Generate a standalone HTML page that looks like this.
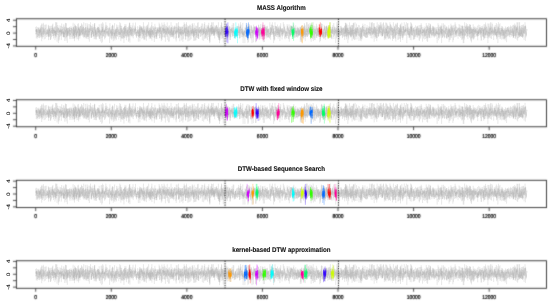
<!DOCTYPE html>
<html><head><meta charset="utf-8"><style>
html,body{margin:0;padding:0;background:#fff;overflow:hidden}
svg{display:block}
text{font-family:"Liberation Sans",Arial,sans-serif;text-rendering:geometricPrecision}
.t{font-weight:bold;font-size:6.2px;fill:#111;stroke:#111;stroke-width:0.1px}
.a{font-size:5px;fill:#000;stroke:#000;stroke-width:0.2px}
.y{fill:#222;stroke:#222;stroke-width:0.1px}
</style></head><body>
<svg width="550" height="305" viewBox="0 0 550 305">
<defs>
<filter id="bl" x="0" y="0" width="550" height="305" filterUnits="userSpaceOnUse"><feConvolveMatrix order="3" kernelMatrix="1 3 1 3 16 3 1 3 1" divisor="32" edgeMode="duplicate"/></filter>
<path id="nz" d="M35.7 -.1l.07-4.7 .06 .5 .07 7 .06-1.6 .07 .8 .06-3.9 .07 2.2 .06-2.8 .07 9.1 .07-12 .06 5.8 .07-2.7 .06 2.9 .07 1.5 .06-3.6 .07-1.3 .06 3.6 .07-.2 .06-2.9 .07 7 .07 .8 .06-6.8 .07 3.8 .06 4.4 .07-3.9 .06-1.2 .07 2.5 .06 1.1 .07-5.5 .07-4.6 .06 5.6 .07 1.8 .06-4 .07-1.1 .06 3.6 .07-3 .06-1.8 .07 4.4 .06 2.2 .07-4.1 .07 .3 .06-3 .07 8.4 .06-2.2 .07 .7 .06 3.1 .07-6.5 .06-1.5 .07 5.8 .07-8.8 .06 2 .07 .7 .06 .8 .07-2 .06 8.1 .07-6.9 .06 .1 .07 8.4 .06-7.5 .07 2.5 .07-4.1 .06 4.4 .07-1.5 .06-1.9 .07 4.9 .06-5.2 .07 2.7 .06-2.3 .07 3.5 .07-5.6 .06 1.7 .07 2.7 .06-2.8 .07-2.3 .06-1.8 .07 11.9 .06-8.7 .07 1.5 .07 1.9 .06 3.3 .07-8 .06 8.9 .07-6.5 .06-2.6 .07 10.3 .06-4.6 .07 3.5 .06-5.5 .07-4.5 .07-1.8 .06 16.6 .07-7.4 .06-4.5 .07-5.9 .06 6.9 .07 4.1 .06-3.7 .07 1.2 .07 .6 .06 1.9 .07-4 .06 .3 .07 1.4 .06 .5 .07 6 .06-5.1 .07-6 .06 5.3 .07 4.1 .07-9.8 .06 2.8 .07-5.6 .06 7.3 .07 1.8 .06 3.5 .07-9.8 .06-4.4 .07 12 .07-.6 .06-4.4 .07 5 .06-1.9 .07 .2 .06-1.9 .07-3.2 .06 3.8 .07-3.1 .07 4.7 .06-2.7 .07 8.8 .06-2.5 .07-7.9 .06 4.9 .07-4.2 .06 .2 .07-5.1 .06 2.7 .07 .7 .07 4 .06 2.1 .07 .1 .06-.9 .07 2.3 .06-2.1 .07-1.6 .06-1.2 .07 2.1 .07 5.6 .06-6.5 .07-1.1 .06-3 .07 .7 .06 5.4 .07 .3 .06-9.7 .07 4.4 .06-3.8 .07-1 .07 10.4 .06-4.9 .07 .4 .06-.4 .07 .1 .06 1.2 .07 .1 .06 5.9 .07-4.7 .07 2 .06-3 .07 2.1 .06-3.9 .07-.7 .06 1.8 .07 0 .06 .8 .07 1.9 .06-1 .07 1.2 .07-3.2 .06 1.4 .07-2.1 .06 6.8 .07-7.8 .06 5.8 .07-.1 .06-1.9 .07 1.3 .07-3 .06 3 .07 1.8 .06-.8 .07-10 .06 6.8 .07 4.3 .06-4.1 .07 8.3 .07-14.6 .06 11.7 .07-7.1 .06-.2 .07 7 .06-6.7 .07-3.7 .06 2.8 .07 1.6 .06-2.5 .07 2.8 .07-1.2 .06 2.5 .07-4.1 .06 8.4 .07-7.8 .06 4.6 .07 2.1 .06-5.2 .07-4.7 .07 2.6 .06 6.1 .07-5.2 .06 4.1 .07-.9 .06-1 .07 8.5 .06-8.9 .07 4.3 .06-1.1 .07 2.7 .07 2.8 .06-4.7 .07-7.7 .06-1.5 .07 6 .06-4 .07 4.8 .06 5.9 .07-7.3 .07-1.1 .06 3.1 .07-2.6 .06-.9 .07 5.1 .06 2.1 .07-4.4 .06-.1 .07 .5 .06-4.7 .07-2.6 .07 7.6 .06-5.2 .07 .4 .06 .8 .07-1.2 .06 5.1 .07-4 .06-4.6 .07 4.4 .07 5 .06-4.3 .07-2.4 .06 3.2 .07 3.3 .06-10.2 .07 12.6 .06-6.2 .07 1.9 .07 4.1 .06-8.5 .07 3.1 .06 5.3 .07-7.3 .06 4.7 .07 5.2 .06-4.3 .07-3.3 .06-1.3 .07 1.6 .07 .4 .06-1.5 .07 2.4 .06-4.9 .07 3.4 .06-.2 .07-.9 .06 5.6 .07-1.2 .07-7.9 .06 4.2 .07 2.2 .06-2.2 .07 2.9 .06-2.7 .07 4.5 .06-4.5 .07 9.4 .06-13.1 .07 6.5 .07 3.8 .06-4.8 .07 .5 .06-1.8 .07 4.6 .06-5.5 .07-8.2 .06 14.1 .07-5.7 .07 2.3 .06-1.8 .07 7.1 .06-2.3 .07-5.7 .06 1.7 .07-5.9 .06 8.3 .07-3.1 .06-9 .07 12.3 .07 2.1 .06-4.7 .07 .1 .06-3.2 .07 2.3 .06 3.4 .07-3.4 .06-8.6 .07 4.8 .07 14.3 .06-9.3 .07 2.6 .06-5.3 .07 2.8 .06-7.4 .07 3.5 .06 .2 .07 2.4 .07 .8 .06-1.9 .07-2.8 .06 2.7 .07 3.1 .06-5.7 .07 3.8 .06 1 .07 2.5 .06-.8 .07 .2 .07 9.1 .06-14.9 .07 1.6 .06 2.8 .07-4.5 .06 1.4 .07 1 .06 10.1 .07-8 .07-2.7 .06-3.8 .07-.8 .06 1.5 .07 9.1 .06 3.7 .07-9.8 .06 1.9 .07-3.3 .06 3.8 .07-1.2 .07 6.1 .06-6.9 .07 3.2 .06-2.8 .07-.4 .06 2 .07-1.5 .06 1.1 .07-2.7 .07 .9 .06 4.7 .07-.8 .06-8.3 .07 6.6 .06-3.9 .07 2.1 .06 3.4 .07 2 .07-4.4 .06-.5 .07-1.3 .06 6.7 .07-2.4 .06-1.8 .07-6 .06 14 .07-9.9 .06 3.5 .07-3.4 .07 4.1 .06-3.9 .07-7 .06 6.4 .07 .4 .06 .2 .07 4 .06-5.6 .07 3.6 .07 2.2 .06-2.8 .07 .7 .06-3.5 .07 2.9 .06 1.7 .07-7 .06 1.6 .07-1 .06 2.4 .07 2.5 .07 1.1 .06-.5 .07-4.4 .06 3 .07 5.6 .06-5.1 .07 4.9 .06-5.9 .07 5.2 .07 .2 .06-4.9 .07 .7 .06 5.6 .07-8.5 .06-5 .07 12.8 .06-11.6 .07 8.8 .06-.7 .07-1.1 .07 4.5 .06-9.7 .07 2.9 .06 4.4 .07-1.7 .06 4.4 .07-4.2 .06-4.5 .07 12.4 .07-7.6 .06-2 .07-3.2 .06-1.1 .07 6.4 .06 1 .07-4.2 .06 2.9 .07-.2 .07-4.9 .06-5.2 .07 8.1 .06 1.6 .07-2.7 .06 8.7 .07-6.6 .06 3.7 .07-12.3 .06 6 .07 2 .07 1.2 .06 8.2 .07-11.4 .06-6.1 .07 11.2 .06-5 .07-1.4 .06 9.3 .07-8.8 .07-1.5 .06 4 .07 1 .06-3 .07 8.2 .06-5.7 .07-3.4 .06 8.1 .07-7.9 .06 5 .07 9.5 .07-10.6 .06 3 .07-4.5 .06 5.2 .07-7.8 .06 6.3 .07-3.9 .06 3.4 .07-1 .07-5.3 .06 3.4 .07 2.2 .06 3 .07-8.5 .06 .2 .07 5.1 .06-2.1 .07 4.5 .06 0 .07-.7 .07-4.1 .06 .2 .07 3.6 .06-6.5 .07 1.1 .06 2.2 .07-3.1 .06 4.7 .07-.6 .07-2.1 .06 1.9 .07-3 .06 7.2 .07-9.4 .06 7.8 .07-2.2 .06 6.7 .07-9.4 .07-2.4 .06 .7 .07 .9 .06 8.4 .07-2.7 .06-1.2 .07 1.7 .06-7.3 .07 3.3 .06 .8 .07-1.8 .07 5.1 .06-.2 .07-.1 .06-4.9 .07 .6 .06-.8 .07-3.7 .06 12.9 .07-5.2 .07-2.5 .06 5.3 .07-2.9 .06-5.5 .07-.3 .06 .1 .07 3.6 .06 .9 .07-4.5 .06 5.1 .07-2.5 .07-3.5 .06 6 .07 .9 .06-2.2 .07-2.1 .06-.5 .07 2 .06-2.4 .07 8.7 .07-2.7 .06-3.6 .07 5.5 .06 2.2 .07-2.8 .06-1.1 .07-2.6 .06 3 .07-4.4 .07-8.2 .06 9.5 .07-5 .06 3.5 .07 5 .06-3.1 .07 2.6 .06-7.6 .07 8.2 .06-8.8 .07 2.7 .07 9.2 .06-10 .07-2.7 .06 8.3 .07-6.3 .06 9.9 .07-7.3 .06 6.8 .07-7.6 .07 8 .06 3 .07-10.7 .06-6.7 .07 10.2 .06-5 .07 2.5 .06 1.5 .07-3.3 .06-3.6 .07 12.4 .07-8.6 .06 .8 .07 6.2 .06-10.7 .07-1.2 .06 10.3 .07-9.5 .06 5.9 .07 .8 .07-5.9 .06 4.5 .07-.3 .06-4.3 .07 .8 .06 1.4 .07 8.2 .06 .6 .07-9.6 .06 7.3 .07-3.8 .07 4.3 .06-2.8 .07 3.5 .06-10.3 .07 11.2 .06-5 .07 .3 .06-5 .07 11.8 .07-7.4 .06 .6 .07-3.5 .06 1.1 .07 3.3 .06-2.4 .07 2.1 .06-3 .07 2.1 .07 3.1 .06-3.4 .07-1.4 .06-6.7 .07 9.7 .06-2.8 .07-4.1 .06 12.5 .07-1.1 .06-2 .07-3.6 .07-9.2 .06 7.2 .07-2.9 .06 5.1 .07 7.9 .06-.5 .07-11.8 .06 2.9 .07 5.3 .07-8.6 .06 9.4 .07-9.4 .06-1.1 .07 7.8 .06 1.2 .07-6.9 .06 6.9 .07-6.9 .06 7.2 .07-8.5 .07 4 .06 1.8 .07 1.7 .06-4.5 .07 8 .06-5.7 .07 .4 .06-3.8 .07 6.8 .07-10.5 .06 7.2 .07 2.9 .06-8.9 .07-1 .06 6.6 .07 2.5 .06-3.3 .07 2.5 .06-1.3 .07-6.6 .07 4.1 .06 .9 .07-.7 .06 1.4 .07-3.2 .06-.1 .07 4.4 .06-1.7 .07-8.1 .07 7 .06 2.2 .07-7.9 .06 7.2 .07 3.9 .06-6.3 .07 5.6 .06-1.4 .07-3 .07 1.6 .06 2.3 .07-.8 .06 .2 .07-6.2 .06 6.6 .07-.5 .06-9.2 .07 9.2 .06-7.3 .07 .6 .07 5.2 .06 4.5 .07-6.6 .06-.8 .07-1 .06 3 .07-3.9 .06-.6 .07 8.6 .07-8.8 .06 4.2 .07 2.9 .06-.9 .07-10.7 .06 6.1 .07 9.8 .06-6.6 .07 .8 .06 .1 .07 2.1 .07 2.5 .06-8.2 .07 8 .06-3.7 .07 .8 .06 .5 .07-6.5 .06 2.5 .07 3.8 .07 2.6 .06-3.3 .07-5.1 .06 2.7 .07-.1 .06 2 .07-.3 .06-1.7 .07 7.3 .07-15.1 .06 11.4 .07-.8 .06-6.7 .07 3.9 .06 .7 .07 2.2 .06 3.4 .07-6.5 .06-3.2 .07 7.4 .07-8 .06 8.8 .07-1.4 .06-4.4 .07 1.8 .06-2.4 .07 5 .06 1 .07 3 .07-2.3 .06-.5 .07 1.2 .06-6.1 .07 3.4 .06 4.7 .07-15.8 .06 11.8 .07 1.4 .06-8.8 .07-1.8 .07 10.3 .06 1.1 .07-1.7 .06-7.5 .07 5.1 .06 1.8 .07-2.8 .06-4.4 .07 9.2 .07-2.9 .06 2.9 .07-12.6 .06 1.3 .07 3 .06 4.1 .07-3 .06 9.7 .07-8.4 .06 5.7 .07 0 .07-1 .06-2.5 .07-4.2 .06 .5 .07 1.1 .06 4.7 .07-6.9 .06 4 .07-4.6 .07 7.4 .06 6.6 .07-8.1 .06-9.3 .07 5.9 .06 2.4 .07-3.8 .06 .4 .07 .3 .07 5.1 .06-3 .07-.4 .06 3 .07 3.6 .06-6.4 .07-2.9 .06 1.1 .07 .6 .06-.1 .07-7.8 .07 8.7 .06-2.8 .07-3.2 .06 6.7 .07-.7 .06-2.8 .07-2.3 .06 4.9 .07-.8 .07 1.6 .06 4.6 .07-8.3 .06 4.9 .07 5.2 .06-5.6 .07 5.6 .06-2.5 .07-3.7 .06 3.3 .07-8.9 .07 10.9 .06-6.2 .07-1 .06-3.2 .07 .3 .06 4 .07 .6 .06 .5 .07-4.3 .07 6.4 .06-4.2 .07 2.2 .06-1.2 .07 2.2 .06-8.9 .07 9.9 .06-3.2 .07-.1 .06-1.2 .07 .6 .07 .1 .06-2 .07 8.8 .06-5.4 .07 4.4 .06-5.2 .07 5 .06-.7 .07-3.1 .07-5.3 .06 2.9 .07 1 .06-3.9 .07 8.3 .06 4.1 .07-5.9 .06-.6 .07-5.3 .07-3.2 .06 12.3 .07-13.5 .06 3.2 .07 2.6 .06 1.6 .07-7.2 .06 8.3 .07 1.9 .06-2.1 .07 7.7 .07-8.9 .06 2 .07-1.5 .06-.1 .07 5 .06-8.4 .07 8.2 .06-6.7 .07 8.8 .07-7.6 .06 4.8 .07-3 .06 2.5 .07 5.4 .06-3.8 .07-4.3 .06-1.9 .07 7.4 .06 2.4 .07-4.5 .07-2.3 .06 1.5 .07 .6 .06-5.9 .07-.4 .06 .8 .07 7.6 .06-5.4 .07 1.1 .07 4.4 .06-8.2 .07 2.8 .06 2.1 .07-6.8 .06 2.3 .07-.3 .06-1.2 .07 1.7 .06 7 .07-3.1 .07-4.9 .06 6.3 .07-2.9 .06-1.3 .07-3.6 .06 .5 .07 1.4 .06 3.8 .07-3.9 .07 1.4 .06 2.4 .07-5.3 .06 3 .07 5.7 .06-8.4 .07 5.4 .06-3 .07 7.4 .07-5.3 .06 3.3 .07 .1 .06 3.3 .07-14.3 .06 8.1 .07-1.4 .06-3.1 .07 4.4 .06-2.3 .07 9.1 .07-7.9 .06 2.8 .07-3.9 .06 1.1 .07 5.6 .06 1.6 .07-2.9 .06-6.2 .07 1.1 .07 0 .06 8.6 .07 2.4 .06-7.3 .07-1 .06 2 .07-4.5 .06 1.9 .07 3.6 .06-1.1 .07-3.6 .07 .2 .06 .7 .07-8.4 .06 9.4 .07-2.1 .06 4.2 .07-1.6 .06-3.8 .07-.1 .07 2.5 .06-1.9 .07 1.2 .06 6.8 .07 4.7 .06-19.5 .07 5.3 .06 3.2 .07 5.8 .07-1.6 .06-9.3 .07 14.7 .06-8.8 .07-4.2 .06 2.6 .07-2.2 .06 3.2 .07-10.1 .06 13.2 .07 1.2 .07-5.8 .06-4.1 .07 5.3 .06-3.9 .07 5.6 .06 2.3 .07-9.2 .06-3.3 .07 2.9 .07 6.9 .06 2.6 .07 0 .06-2.9 .07-3.3 .06 .3 .07 6.9 .06-5.8 .07 .6 .06-.2 .07 .4 .07 .6 .06-2.8 .07 1.7 .06-.4 .07 3.2 .06-4.5 .07 2.5 .06 7.1 .07-9.2 .07 2.6 .06-4.2 .07 3.9 .06-.3 .07-1 .06 .7 .07 1.6 .06 4.7 .07-12.8 .06 12.1 .07-4.4 .07-3.5 .06 1 .07-.7 .06-.7 .07-1.8 .06 3.4 .07-8.5 .06 13.2 .07-4.4 .07 2.1 .06 .6 .07-2.9 .06-4.2 .07 7.7 .06 0 .07-5.1 .06 .7 .07-5 .07 3.3 .06 2.8 .07 2 .06-2 .07 1.4 .06 4.2 .07-4.8 .06 .6 .07 .2 .06 .7 .07-7.5 .07 3.5 .06-.8 .07 5.4 .06 1.5 .07-2.6 .06-1.9 .07 2.7 .06-1.1 .07-4.1 .07 2.3 .06 4.6 .07-2 .06 .8 .07-3.3 .06 5.1 .07-3.5 .06-4.3 .07 3.6 .06 4.9 .07-2.6 .07-2.9 .06-1 .07-1.3 .06 3.5 .07 4.2 .06-9.7 .07 3.4 .06 .2 .07 .3 .07 4.8 .06-2.6 .07-2 .06-2.8 .07 3.5 .06 11.2 .07-10.1 .06-2.1 .07-3.4 .06 2.1 .07-6.3 .07 3.8 .06 .2 .07 1.5 .06 8.2 .07-7.9 .06 .9 .07 4 .06-4 .07-.1 .07 3.8 .06-1.2 .07 .5 .06-1.7 .07 2.3 .06-3.4 .07 8.7 .06-5.8 .07 5 .07-4.3 .06-3.5 .07 1.7 .06 .5 .07-.6 .06-5.4 .07 9.5 .06-7 .07 11.1 .06-6.3 .07-2.3 .07 3.6 .06-3.7 .07-1.9 .06 6.8 .07-3.9 .06 1 .07 5.6 .06-6.2 .07 2.1 .07-9.9 .06 11.7 .07-10.6 .06 7.9 .07-8.8 .06 5 .07 .3 .06-1.2 .07-.4 .06-1.8 .07-1.1 .07 7.3 .06 5.4 .07 2.8 .06-8 .07-4.1 .06 1.4 .07 .9 .06 1.6 .07 1.1 .07-1.3 .06-2.4 .07 7.6 .06-8.8 .07 10.3 .06-6.9 .07 1.4 .06-.9 .07 2.4 .07 .4 .06-3.3 .07 3 .06-12.5 .07 10.2 .06 .8 .07-.3 .06 1.8 .07 4.9 .06-7.8 .07-2.5 .07 6.9 .06-5.3 .07 6.5 .06-6.3 .07-1.4 .06-.5 .07 .2 .06 4 .07-5.6 .07 4.7 .06-2.8 .07-1.3 .06 3.6 .07 5.8 .06-10.1 .07 7.2 .06-.8 .07 .7 .06-6.8 .07 3.5 .07 7.4 .06-11.9 .07-3.4 .06 1 .07 8.3 .06-2.2 .07-1.6 .06-2.9 .07 4.6 .07 4 .06-6.5 .07 .5 .06 6.8 .07-3.4 .06-2.2 .07 .9 .06-2.7 .07-1.5 .06 2.3 .07 2.3 .07 4.4 .06-6.9 .07-2.8 .06-2 .07 7.1 .06 0 .07-5.3 .06 .1 .07 3.8 .07-1.3 .06 5.2 .07-4.7 .06 5 .07-2.4 .06-.1 .07 1.2 .06 5.8 .07-4.5 .07-4.1 .06 1.4 .07 1.1 .06-2.9 .07-.9 .06-.5 .07 5.8 .06-2.9 .07 1.2 .06 2 .07 2.1 .07-4.9 .06 2.7 .07-12.7 .06 10 .07 .5 .06 .6 .07-8.1 .06 10 .07-2.8 .07 2.2 .06-2.3 .07-.2 .06-4.1 .07 8.9 .06-5 .07-8.6 .06 10.4 .07-1.2 .06 2.5 .07 6.1 .07-8.9 .06-6.5 .07 7.8 .06 4.9 .07-7.5 .06 .7 .07-3.3 .06 .3 .07 4.2 .07-2.4 .06 7.8 .07-12.2 .06 5.2 .07-3.2 .06 .1 .07 4.8 .06-.5 .07 2.6 .06 4.2 .07-6.9 .07-1 .06 4.4 .07-6.4 .06 2.2 .07-1.2 .06 4.3 .07 3.5 .06-9 .07 .6 .07 2.5 .06 1.1 .07-.5 .06-.5 .07 1.4 .06 5.3 .07-11.3 .06 9.4 .07-3.4 .07-.8 .06-2 .07 6.7 .06-10 .07 1.9 .06-.4 .07-1.7 .06 7.3 .07 8.2 .06-12.2 .07-3.5 .07 .5 .06 6 .07-1.5 .06-1.4 .07 7.4 .06-4 .07-.1 .06-7.9 .07 7.9 .07-7.8 .06 5.5 .07 5.9 .06-13.7 .07 11.2 .06-5.6 .07-3.8 .06 7.9 .07 2.5 .06-8.1 .07 3.4 .07 4.6 .06-.5 .07-2.4 .06-4.8 .07 4.4 .06-3.3 .07-3.5 .06 1.3 .07-3.1 .07 3.2 .06 10.1 .07-10 .06 3.1 .07 1.6 .06 3.4 .07 4.6 .06-4.5 .07-3.8 .07 4.1 .06-1.3 .07 .4 .06-5.7 .07 3.4 .06-.5 .07-5.2 .06 6.4 .07-3.8 .06 7.7 .07-6.8 .07 .6 .06 0 .07 2.2 .06 2 .07-2.5 .06 .6 .07-5.4 .06-1.1 .07 9.1 .07-6.5 .06 4.7 .07-4.1 .06 3.3 .07 3.5 .06-8.8 .07 1.2 .06 6.7 .07 5.7 .06-8.1 .07 2.3 .07-2.9 .06-3.5 .07-3 .06 6.5 .07-6.2 .06-1.3 .07 7.7 .06 7.3 .07-11.8 .07 .8 .06-6.1 .07 3.2 .06 2.3 .07-6.2 .06 12.7 .07-4.4 .06 1.7 .07-10.3 .06 7.3 .07 12.8 .07-15.7 .06 9.7 .07-7.6 .06 4.5 .07-2.6 .06-1.4 .07 1.6 .06 4 .07-8.3 .07 3.5 .06 1.5 .07-2.5 .06 5.3 .07-9.5 .06 5.8 .07-.5 .06 .1 .07 4.5 .07 .9 .06-4.9 .07-.5 .06-3.5 .07 2.3 .06 6.3 .07-5.7 .06-1.1 .07-.6 .06 2.4 .07 5.5 .07-8.5 .06 6.7 .07-4.6 .06 7.6 .07-8.3 .06 5.5 .07-6.6 .06-2.4 .07 2.1 .07 8.3 .06-.8 .07-.3 .06-5.4 .07 1.1 .06 .7 .07-.6 .06-2 .07 .8 .06-6.7 .07 9.2 .07-.9 .06 7.3 .07-1.9 .06-2.2 .07 1.7 .06-4.9 .07-2.9 .06 5.2 .07 .2 .07 .1 .06-2.3 .07 2.4 .06-3.4 .07 .4 .06-.1 .07-1.5 .06 2.6 .07-.4 .06-5.7 .07 6.4 .07-3 .06 2.6 .07 1.8 .06 0 .07 1.3 .06-2.9 .07 3.2 .06-1.7 .07-5.8 .07 5 .06-4.7 .07 3.1 .06-2.1 .07 5.2 .06-2.7 .07-8.8 .06 6.4 .07-2.4 .07 4.1 .06-1.8 .07 7.1 .06-1.1 .07-4.5 .06-1.4 .07 4.4 .06-.8 .07 .6 .06-.6 .07 3.6 .07 .8 .06-4.8 .07 5.9 .06-2.7 .07-1.1 .06 1.4 .07-4.6 .06 2.4 .07-1.3 .07 3.3 .06-.9 .07-4.4 .06 .5 .07 2.9 .06-2.9 .07 .3 .06 .4 .07-5.1 .06 7.1 .07-2.9 .07 0 .06 2.3 .07 3.3 .06-6.5 .07 1.5 .06 .7 .07 .1 .06 0 .07 4.9 .07-5.8 .06 10.7 .07-9.6 .06 5.2 .07-4 .06-3.8 .07 3.5 .06 .8 .07-4.4 .06 3.6 .07 .5 .07 0 .06-6.8 .07 3 .06 .7 .07 5.9 .06-7.4 .07 7.8 .06-6.3 .07 5.6 .07-10.8 .06 12.9 .07-10.3 .06 1.5 .07 12.3 .06-8.6 .07-6 .06 1.1 .07 9.9 .07-4 .06 2.3 .07-.6 .06-1.3 .07-8.8 .06 6.1 .07 1.2 .06 .4 .07-4.6 .06 1 .07 5.7 .07-8.5 .06 9.1 .07-2.9 .06-2.6 .07-4.4 .06 7.3 .07-2.3 .06-3.6 .07 2.4 .07-1.8 .06 .4 .07 2.7 .06-1.3 .07-1 .06 3.5 .07-5.9 .06 12.7 .07-3.8 .06-8.4 .07 3.6 .07 3.8 .06-4.2 .07-1.9 .06 5.8 .07-4.7 .06 3.2 .07-.1 .06-.1 .07-4.2 .07 10 .06-4.8 .07-3.6 .06 6.6 .07 1.3 .06-7.6 .07 2 .06 .5 .07-1 .07 4 .06-13.3 .07 13.3 .06-1.9 .07 6.1 .06-6.2 .07-6.9 .06 5.4 .07-2.1 .06 3.8 .07-8.1 .07 5.8 .06 7.4 .07-9.5 .06 4 .07-3.4 .06 1.6 .07-.4 .06 .4 .07 3.7 .07 4.9 .06-11.5 .07 3.9 .06-1.5 .07 2.7 .06 5.5 .07-2.7 .06-9.4 .07 7.7 .06-1.4 .07 3.8 .07-2.3 .06-1.6 .07-.5 .06-.5 .07 2 .06-.2 .07-2 .06-1.2 .07 1.6 .07-6.6 .06 5.4 .07 .2 .06 2.9 .07-6 .06 7.3 .07 5 .06-5.2 .07-5.6 .06 6.2 .07-8.6 .07 4.6 .06 5.3 .07-4.5 .06-7.2 .07 9.4 .06 1.6 .07-6.5 .06-5 .07 3.3 .07 4.7 .06-1.8 .07-.5 .06-3 .07-3.4 .06 7.9 .07-4.9 .06 5.8 .07-3.3 .07 5.4 .06 .8 .07-5.6 .06 4.6 .07-6.3 .06 5.1 .07-2.2 .06 .5 .07 .9 .06-1.6 .07-3.4 .07-6 .06 14.1 .07-5.3 .06 1.7 .07 2.6 .06-4.3 .07 4.2 .06-2.9 .07-4.6 .07 11.5 .06-8 .07-.7 .06 6.8 .07-7.1 .06 .1 .07 3 .06-5.5 .07 8.9 .06-6.9 .07 3.1 .07 2.9 .06-2.7 .07 .2 .06-4.1 .07 8.1 .06-4.6 .07 1.9 .06-8.1 .07 11.6 .07-9.8 .06 10 .07-7.5 .06 1.7 .07-1.8 .06 3.9 .07 4.4 .06-1.5 .07-10.1 .06 3.9 .07 3.8 .07-6.2 .06 5.8 .07 0 .06 1.7 .07-8.5 .06-2.7 .07 10.3 .06-4.4 .07-4 .07-4.9 .06 18.4 .07-9 .06-1.8 .07 7.6 .06-6.7 .07 .7 .06-1.8 .07 4.6 .07-3.5 .06 3.6 .07-4.3 .06 1.6 .07 1.9 .06 3.6 .07-10.8 .06 1.9 .07-.6 .06 6.9 .07-1.1 .07-7.2 .06 3.3 .07 5.6 .06-3.1 .07-.4 .06 1.2 .07 2.7 .06-7.8 .07 2.3 .07 2.8 .06 4.9 .07-3.5 .06-2.1 .07-3.1 .06 5.2 .07-6 .06 3.4 .07 3.1 .06 7.3 .07-5.8 .07 1.2 .06-4.8 .07-1.7 .06-3.7 .07 4.9 .06 6.3 .07-14.6 .06 7.2 .07 2 .07 .6 .06 3.2 .07-7 .06 .9 .07-4.3 .06 1.8 .07 .8 .06-1.4 .07 5.5 .07 .5 .06-1.4 .07 4.2 .06-3.9 .07 1.4 .06-4.2 .07 2.4 .06 6.7 .07-6.9 .06-4.9 .07 11.5 .07-2.4 .06-4.2 .07 4.8 .06-2.8 .07-2.1 .06 4.9 .07-5.8 .06-.4 .07 8.3 .07-6.9 .06-3.7 .07 4.4 .06-2.2 .07-.7 .06 3.1 .07-4.3 .06 2.1 .07 4.9 .06-5.4 .07-1.2 .07 .2 .06 5.1 .07-3.9 .06-3.2 .07 4 .06-3.4 .07-.4 .06 4.7 .07-2.4 .07 3.3 .06-4.8 .07 4.1 .06 1.6 .07-1.8 .06 .2 .07-1.7 .06-.3 .07 5.8 .06-.6 .07-4.8 .07-.4 .06 1.4 .07-9 .06 3.4 .07 6.1 .06-2.8 .07-2.2 .06 3.5 .07 7.4 .07-6.5 .06 .2 .07-7.4 .06 14 .07-12 .06 6.1 .07-3.9 .06 4.3 .07-1.9 .07-3.1 .06 3.7 .07-3.4 .06 4 .07 1.8 .06-1.3 .07 1 .06-1.4 .07-5.2 .06 8.9 .07 1.7 .07-5.8 .06-6 .07 2.3 .06-1 .07 .2 .06 7 .07-3.2 .06 10 .07-7.2 .07-4.3 .06 7.6 .07 1.8 .06-2.7 .07-5.4 .06-3.3 .07-5 .06 4 .07 10.5 .06 2.8 .07-8.7 .07-3.3 .06 9.5 .07-3.9 .06-.3 .07-1.7 .06 .8 .07-2.5 .06-1.9 .07 3.5 .07-2.4 .06-4.4 .07 10.6 .06 1.8 .07-7.2 .06-4.8 .07 6 .06-3.3 .07 5 .06-4.4 .07 5.5 .07-4.6 .06 .9 .07 0 .06-3.4 .07 1 .06 5.9 .07-5.2 .06 9.1 .07-9.5 .07-5.8 .06 7.4 .07 .1 .06 1.5 .07-2.7 .06 4.5 .07-4 .06 3.4 .07 .5 .07-1.9 .06 .5 .07 6 .06-13.5 .07 6.9 .06 6.5 .07-12 .06 6.1 .07-.9 .06-1.7 .07 7 .07 5.9 .06-10.1 .07-1.2 .06-2.7 .07 6.2 .06-1.7 .07-2.4 .06 2.6 .07-.3 .07-1.7 .06 4.4 .07-9.1 .06 8.8 .07-3.4 .06 1.3 .07 1.4 .06-4.4 .07-1.7 .06-1.6 .07 3.1 .07 3.7 .06-4.7 .07 8.2 .06-5.3 .07-2.8 .06 1 .07 6.1 .06 1.2 .07-14.3 .07 10.8 .06 6.7 .07-4.1 .06-4.4 .07-4.2 .06 4.2 .07-4.2 .06 3.4 .07-.8 .07-1.8 .06 4.8 .07-2.4 .06 2.4 .07 .9 .06-5.9 .07 6.6 .06-3.2 .07 3.1 .06-2.5 .07 1.6 .07-5.8 .06 3.6 .07 .1 .06-5.6 .07 16.1 .06-6.3 .07 5.8 .06-9.7 .07-1.6 .07-.7 .06 1.4 .07 4 .06-9.3 .07 5.2 .06 2 .07 3 .06-5.4 .07 3.2 .06-.1 .07-2.4 .07-.4 .06 4.1 .07-7.4 .06 8 .07 .4 .06-5 .07 .6 .06 .3 .07 1.7 .07-1.6 .06 2.1 .07 3.8 .06-9.7 .07 7.5 .06-2.4 .07-3.8 .06 2.5 .07-9.4 .06 14.5 .07-1 .07-4.3 .06-4.5 .07 5.7 .06 4.2 .07-9.1 .06 7.3 .07-2.6 .06-5.4 .07 7.1 .07-.7 .06-3.4 .07 2.5 .06-1.8 .07 4.4 .06-2.7 .07 3.2 .06 1.7 .07-11.7 .07 3.8 .06-.9 .07 6.7 .06-3.3 .07 1 .06 3.9 .07-7 .06 5.8 .07-3.1 .06 4.6 .07-8.8 .07 .8 .06 1.3 .07 4.6 .06-1.3 .07-6.2 .06 5.3 .07-2 .06 .5 .07 4.4 .07-9.3 .06 12.4 .07-7.8 .06 1.1 .07 5.4 .06-6.9 .07-.7 .06 1.7 .07 3.1 .06-4.5 .07-2.4 .07 3.2 .06-5.3 .07 3 .06 .4 .07-2.2 .06 7.2 .07-.5 .06-3.6 .07-.1 .07-3.5 .06-.7 .07 5.5 .06-.2 .07 1.7 .06 .4 .07 .3 .06-6.5 .07 7.3 .06-1.2 .07-1.8 .07 2.4 .06-1.1 .07 7 .06-9.1 .07 2.4 .06-1.8 .07-.6 .06 11.1 .07-18.3 .07 7.9 .06-.1 .07 6.9 .06-8.5 .07 .7 .06 2.7 .07-2.2 .06-3.7 .07 5.7 .07 2 .06-8 .07 3.8 .06 1.5 .07-8.7 .06 7.5 .07 1.2 .06-1.6 .07 2.4 .06-2.2 .07 .3 .07 2.8 .06-1.4 .07-2.8 .06 .6 .07-2 .06 .5 .07 1.9 .06-.9 .07 3.2 .07-.2 .06-4.8 .07 10.6 .06-8.2 .07-7.9 .06 15.7 .07-11.8 .06 11.5 .07-7.4 .06-4.5 .07 .5 .07 8.5 .06 1.4 .07 .5 .06-7.6 .07 3.9 .06-1.3 .07-.9 .06-.6 .07-.4 .07 1.5 .06 6.1 .07-10.8 .06 14.8 .07-14 .06 6.5 .07-1.5 .06 1.2 .07-.5 .06-1.3 .07 1.4 .07 2.4 .06-6.8 .07 5 .06-6.8 .07 5.5 .06 1.8 .07-4.1 .06-1.6 .07 6.4 .07-2.2 .06-6.1 .07 8.6 .06-.5 .07-3.6 .06 4.9 .07 4.4 .06-2.8 .07-7.3 .07-.9 .06 .2 .07 .7 .06 5.7 .07-6.7 .06-1.7 .07 6.5 .06-7.5 .07 6.4 .06-2 .07-.6 .07 9.1 .06-13 .07 8.2 .06-2.7 .07 1.4 .06-3.4 .07 .1 .06 1.5 .07-4.9 .07 4 .06 2.4 .07 8.7 .06-9.1 .07 0 .06 2 .07 0 .06-5.1 .07-3.6 .06-1 .07 2.6 .07 6.6 .06-3.5 .07 8.1 .06-9.7 .07 1.3 .06 3.4 .07-1.8 .06 .5 .07 1.4 .07-6.9 .06-4.8 .07 6.5 .06-.8 .07 3.2 .06 1.8 .07-9 .06 9 .07-2.7 .07 1.9 .06-3.7 .07 3.4 .06-2.2 .07 6.5 .06-4.1 .07-7.7 .06 11 .07-.2 .06-8.3 .07 3.4 .07-2.3 .06 11.7 .07-8.5 .06 5.1 .07 .4 .06-6.4 .07-2.7 .06 12 .07-3.9 .07-1.9 .06-1.6 .07 4.3 .06-12.7 .07 5.9 .06 3.3 .07 .6 .06-10.1 .07-1.2 .06 11.2 .07-3 .07-3.2 .06 8.7 .07-2.1 .06-6.9 .07 7.3 .06-1 .07 3.3 .06-2.1 .07-5.1 .07 5.3 .06 1.7 .07-2.4 .06-8.5 .07 5.3 .06 3 .07-2.5 .06-1 .07 1.1 .06 10 .07-10.6 .07 1.8 .06-3.7 .07 7.8 .06-8.6 .07 5.5 .06 4.3 .07-10.8 .06 7.5 .07-4.1 .07 2 .06-6.5 .07 1.9 .06-2 .07 3.4 .06 8.3 .07 3.3 .06-9.7 .07 4.1 .07-5.1 .06 1.1 .07 5.6 .06-1.3 .07 .3 .06-.8 .07-2.5 .06-3.1 .07-4.8 .06 10.7 .07-1.5 .07-7.5 .06 .7 .07 4 .06 9.2 .07-4.8 .06-4.2 .07 2.7 .06-9.2 .07 6.8 .07-1.2 .06 5.4 .07-.2 .06-1.3 .07-.2 .06-1.4 .07-2.1 .06 .5 .07-2.8 .06 10.9 .07-8 .07-.1 .06-4.9 .07 6.9 .06-2.4 .07 4.1 .06-4.4 .07 .1 .06 3.7 .07-.7 .07-1.5 .06-2.2 .07 6.2 .06-7.2 .07 4.3 .06-8 .07-1 .06 9.3 .07 .8 .06-11.1 .07 6.6 .07 .2 .06 3.5 .07-1 .06-3.4 .07 .7 .06 6.7 .07-11.2 .06 5.6 .07 4.5 .07-6.9 .06 4.1 .07-3.4 .06 4.8 .07-3.3 .06 7.1 .07-7.1 .06 6.7 .07-6 .07 9.7 .06-8.9 .07-2.8 .06 0 .07-1.7 .06 8.1 .07-9.4 .06-3 .07 12.9 .06-1.5 .07-.8 .07-1.9 .06-.8 .07 9.5 .06-10.9 .07 3 .06 2.7 .07-7 .06 4.6 .07-5.2 .07 2.1 .06 3.1 .07-5.4 .06 1.3 .07 4.7 .06 6.9 .07-6.7 .06-4.2 .07 3.1 .06-7.2 .07 5.4 .07 .2 .06-.7 .07 4.6 .06-2.7 .07 1.9 .06 6 .07-2 .06-9 .07 4.2 .07-1.1 .06 4.8 .07-2.1 .06-6 .07 2.5 .06 3.1 .07-8.2 .06 5.6 .07 1.1 .07-7.4 .06 12.3 .07-8.1 .06 7.9 .07-3.2 .06-.3 .07-2.9 .06-.1 .07-.6 .06 0 .07-6.4 .07-1.5 .06 6.5 .07-.2 .06 4.1 .07 2.5 .06-6 .07 2 .06-2.9 .07 9.5 .07-16 .06 14 .07-4.6 .06-3.4 .07 8.4 .06-2.9 .07 5.2 .06-2.1 .07 1.8 .06-7.3 .07-.6 .07 2.1 .06-5.6 .07-.4 .06 4.9 .07 .8 .06 .2 .07 .6 .06-6.2 .07 3.3 .07 2.5 .06 0 .07-3.1 .06 3.3 .07-2.5 .06 1.2 .07-4.9 .06 .7 .07 9.1 .06-4.4 .07-3.1 .07 4.9 .06-5.3 .07 1.7 .06-.9 .07 2.3 .06-1.3 .07-.8 .06 7.1 .07-1.9 .07 .3 .06-9.6 .07 4.9 .06-.2 .07 .7 .06 2.4 .07 .8 .06-5.6 .07 4.3 .07-6.9 .06 4.9 .07 .4 .06 1.1 .07-.6 .06-.3 .07-5.3 .06-2.9 .07 12.4 .06-5 .07-2.9 .07 7 .06-1 .07-.6 .06 6.9 .07-10.8 .06 2.4 .07 .2 .06-.6 .07-.6 .07-7.3 .06 7.5 .07-2.3 .06 4.8 .07-3.1 .06 2.4 .07-.6 .06 2.7 .07-.3 .06-4.6 .07-1 .07 1 .06 4 .07-3.5 .06 10.2 .07-12.4 .06 3.5 .07-1.6 .06-2.7 .07 5.6 .07-6.6 .06 6.7 .07-3.5 .06 3.4 .07-2.5 .06-6.7 .07 10 .06-.1 .07-1 .06-2.2 .07-8.5 .07 11.6 .06 5.2 .07-3.9 .06 2.2 .07-3.6 .06-2.1 .07 3.5 .06-1 .07 4.2 .07-7.2 .06 3.3 .07-6.6 .06 .2 .07 6.8 .06-1.8 .07-1.5 .06-2.5 .07 8.6 .07-5.7 .06-6.8 .07 6.9 .06-1.1 .07 .8 .06 4.2 .07-7.6 .06 2.4 .07 .4 .06-2 .07-.2 .07 9.5 .06-8.5 .07 3.8 .06-2.6 .07 3.1 .06 .5 .07-8.2 .06 5.2 .07 .9 .07 .1 .06-1.4 .07 .4 .06 8.3 .07-5.3 .06-2.2 .07-3.5 .06-2.2 .07 8.1 .06-10.2 .07 6.5 .07-1.4 .06 3.7 .07 1.2 .06-8.2 .07 5.8 .06-.4 .07-6.6 .06 .1 .07 11.4 .07-4.6 .06-.6 .07-6.5 .06-2.3 .07 8.9 .06-1.5 .07-1.8 .06-1 .07 5.2 .07-4.2 .06 5.6 .07 7 .06-4.6 .07-5.7 .06-2 .07 10.8 .06-1.7 .07-6.3 .06 11.6 .07-14.8 .07-.5 .06 14.2 .07-13.3 .06 3.4 .07-5.7 .06 4 .07 1.8 .06-1.3 .07-2.9 .07 2.7 .06 .5 .07 5.3 .06-8 .07 2.7 .06-6.4 .07 6.6 .06 .1 .07 2 .06-4.8 .07 3.3 .07 1.8 .06-8.2 .07-.6 .06 7.9 .07 2 .06-7.6 .07 6.9 .06-12 .07 9.6 .07-3.9 .06 8 .07-4.5 .06-4 .07 2.3 .06 3.5 .07-10.6 .06 6 .07 3.5 .06 1.3 .07-1.2 .07-5.7 .06 7.5 .07-2.9 .06 3.1 .07-7.4 .06 5 .07-5.4 .06 1.6 .07 5.3 .07-4.5 .06-.9 .07 7.4 .06-6.5 .07-6.6 .06 10.1 .07-3.3 .06 7 .07-6.4 .07 3.7 .06-4.8 .07 2.9 .06 4 .07-8.1 .06 4.7 .07 2.9 .06-3.9 .07 3.7 .06-4.9 .07 1.7 .07 1.5 .06-4.1 .07 6.9 .06-8 .07 10.6 .06-12.9 .07 5.1 .06 1.8 .07 1.5 .07-4.6 .06 2.5 .07 .1 .06-4.3 .07 5.2 .06-.7 .07-2.4 .06-2.3 .07 4.4 .06-1.1 .07 0 .07-2.1 .06-2.7 .07 8.7 .06-2.9 .07-.3 .06-2.3 .07-3.2 .06 5.4 .07-.8 .07-5.6 .06 10.8 .07-1.7 .06-1.1 .07-1.6 .06-.9 .07 2.7 .06-8.1 .07 8.8 .06-1.8 .07-4.6 .07 1.1 .06 2.8 .07-1.4 .06-3.3 .07 4.7 .06-2.4 .07 5.7 .06-3.6 .07 6.2 .07-2.7 .06 .9 .07-8.6 .06 6.2 .07-3.6 .06 5.2 .07-2.6 .06 .3 .07 2.1 .07-6.2 .06 9.1 .07-8.2 .06-6.9 .07 13.3 .06-4.6 .07 8.6 .06-8 .07 6.1 .06-8.5 .07 4.1 .07 4.8 .06-1.9 .07 3.7 .06-7.3 .07-4.1 .06 4.5 .07 2.8 .06-1.2 .07-3.4 .07 12 .06-13.7 .07 .7 .06 10.3 .07-13.1 .06 13 .07-7.7 .06-5.3 .07 10.2 .06 .8 .07-2.6 .07-.2 .06-3.4 .07 2.3 .06-1 .07 0 .06-1.1 .07 2.4 .06-4.2 .07 1.2 .07 3.6 .06-10.2 .07 11.1 .06-7.2 .07 5.3 .06-4 .07-.5 .06-1.3 .07-2 .06 8.2 .07-12.5 .07 8 .06 4.3 .07 4.3 .06-15.7 .07 2.5 .06 6 .07-2.8 .06-2 .07 4.4 .07 1.9 .06-1.4 .07-4.8 .06 4.6 .07 4.5 .06-7.2 .07 9 .06-3.6 .07-7.1 .07 3.6 .06 0 .07 .4 .06-3.3 .07 3.9 .06 6.9 .07-8 .06 12 .07-.1 .06-16.7 .07 2 .07 5.4 .06-1.4 .07-.6 .06-3.3 .07 6.4 .06 .4 .07-.9 .06-2.8 .07-.4 .07 2.4 .06-4.2 .07 6.4 .06-3.4 .07 3.4 .06 0 .07-8.1 .06 5.6 .07 2.5 .06-3.8 .07 3.8 .07-5.8 .06-.9 .07-.7 .06 7.6 .07-3.3 .06-7.2 .07 7.4 .06-5.3 .07-1 .07 10.5 .06-9.3 .07 1.6 .06-.4 .07-3 .06 4.5 .07 1.1 .06-1.7 .07 3.5 .07-3.1 .06 9.1 .07-13.5 .06 8.2 .07-3.9 .06 .8 .07 .8 .06-.1 .07 .2 .06 6.2 .07-4 .07-6.3 .06 8 .07 .2 .06-11.5 .07 3.3 .06-1.3 .07 5.7 .06-1 .07-1.8 .07 .7 .06 2.4 .07 7.5 .06-5.2 .07 2.8 .06-11.1 .07 7.7 .06-1.4 .07-1.6 .06 .9 .07-1.8 .07 4.2 .06 3.2 .07-11.8 .06 8.9 .07-.9 .06 1.2 .07-.9 .06-2.2 .07-2.5 .07 6.5 .06-4.8 .07 3.5 .06-6.8 .07 8.8 .06-4.8 .07-2.2 .06 7.5 .07-5.3 .06-.1 .07 3.4 .07-2.1 .06-6.2 .07 4.5 .06 2.4 .07-.8 .06-2.3 .07-2.9 .06 1.7 .07 .2 .07-3 .06 11.1 .07-.3 .06 3 .07-11.2 .06 11.2 .07-8 .06-2.9 .07 7.7 .07-2.6 .06-1.4 .07-3.6 .06 8.1 .07-6.6 .06-1.3 .07 1.7 .06 .2 .07-3.9 .06 3.7 .07 .8 .07 1.2 .06-3.5 .07 3.3 .06-3.4 .07 2 .06-3.6 .07 6.8 .06-3.1 .07-1 .07-.2 .06-2.5 .07 2.6 .06-1.8 .07-3.8 .06 4 .07 6.7 .06 1.4 .07-8.7 .06 4.9 .07-2.3 .07 1.6 .06-5.3 .07 .4 .06 8.3 .07-5 .06 2.1 .07 3.5 .06-6.9 .07 2.8 .07-2.1 .06-7.2 .07 4.1 .06 .8 .07 5.3 .06 2.8 .07-8.6 .06 5.5 .07-1.3 .06 2.2 .07-2.4 .07-8.1 .06 9.6 .07-.1 .06-1.7 .07-.3 .06 5.3 .07 2 .06-4.2 .07-1.3 .07 2 .06 .8 .07-.2 .06-2 .07-.9 .06 5.3 .07-3.8 .06-3.2 .07 1.7 .07 4.4 .06-2.9 .07-1.8 .06-2.8 .07 8.4 .06-8.1 .07 4 .06-2.3 .07-1.7 .06 5.5 .07-.2 .07-2.5 .06-3 .07 4.5 .06 3.1 .07-2.5 .06-3.8 .07-2.8 .06 5.9 .07-.6 .07-.5 .06-.2 .07 2.9 .06-1.8 .07-2.3 .06 .4 .07 .3 .06 3.6 .07-.6 .06-.4 .07-6.2 .07-1.5 .06 3.9 .07-4.4 .06 6.7 .07 0 .06 3.5 .07-5.4 .06 2.4 .07-1.9 .07-1.4 .06 2.6 .07 3.1 .06-3.8 .07 .1 .06-.4 .07-2.2 .06 3.1 .07 .2 .07-7.1 .06 .5 .07 5.9 .06 3 .07-1.7 .06-2.9 .07-1.7 .06-5.4 .07 9.7 .06-1.9 .07 1.8 .07-1.5 .06 1.6 .07 2.4 .06-9.1 .07 4.9 .06-4.1 .07 6.3 .06-2.7 .07-1.4 .07 8.9 .06-2 .07-7.2 .06 2.3 .07 6.7 .06-3.8 .07 1.1 .06-2 .07-7.1 .06 7.4 .07-9.1 .07 8 .06 1.6 .07-8 .06 2.1 .07-1.5 .06-4.7 .07 5.8 .06-.5 .07 10.2 .07-3.1 .06-4.4 .07 .8 .06-1.8 .07 4.2 .06-7.6 .07-1.2 .06 5 .07-.9 .06 1.2 .07-1.5 .07 2.5 .06 2.5 .07-2.9 .06 .8 .07 5.7 .06-6.2 .07 .7 .06-.6 .07 3.5 .07-5.4 .06 .4 .07 4.7 .06-3.6 .07-3 .06 1.5 .07 5.9 .06 .3 .07-3.7 .07 5.6 .06-14.2 .07 11.6 .06 0 .07-5 .06 3.9 .07 9.7 .06-10.8 .07 2.9 .06-1.6 .07 3.9 .07-2.5 .06-2.6 .07-.3 .06 3.7 .07-1.4 .06 .5 .07-3.5 .06 1.1 .07 3.8 .07-6.6 .06 4.7 .07-3.8 .06 4.6 .07-4.3 .06 1.5 .07-.6 .06-1.6 .07 .3 .06 .9 .07 0 .07 5 .06-4.2 .07 10.9 .06-3.3 .07-6.7 .06-.3 .07-6 .06 2.9 .07-1.6 .07 5 .06-2.7 .07-2.5 .06 2.2 .07 .6 .06 .9 .07 5.3 .06-1.8 .07 1.8 .06-6.4 .07 2.4 .07 1.4 .06-3.6 .07 3.2 .06-5.6 .07-3.1 .06 5.1 .07 4 .06 2.8 .07-12.2 .07 5.4 .06 7.8 .07-10 .06 9.6 .07-3.5 .06-1.5 .07 .4 .06 2.8 .07-12.4 .07 9.8 .06-2.8 .07 1.2 .06 5.8 .07-3.7 .06-3 .07-2.2 .06 4.5 .07-2.5 .06 2.4 .07-3.2 .07 13.3 .06-13.3 .07 4.2 .06-.1 .07 7.9 .06-6.2 .07-5.9 .06-6 .07 11.9 .07-1.4 .06-4.1 .07 .3 .06 3.5 .07-1.2 .06 .5 .07-3.5 .06-.7 .07-3.3 .06 2.9 .07-.3 .07 3 .06-2.8 .07 6.8 .06-11.1 .07 6.1 .06-3.4 .07 7.7 .06-6.4 .07 2.2 .07 2.4 .06 1.4 .07 .7 .06-9.4 .07 2 .06 3.9 .07-.6 .06 3.6 .07 3.9 .07-.2 .06-4.2 .07-1.6 .06 3.6 .07-6.9 .06 1 .07 1.2 .06 6.8 .07-5.4 .06-.7 .07 4.3 .07 3.3 .06-14.5 .07 4.6 .06 3.6 .07-7 .06 1.7 .07 2.3 .06 .8 .07-1.9 .07-2.5 .06 4.8 .07 1.2 .06-2.9 .07 13.4 .06-11.6 .07 1.7 .06-1.3 .07 .6 .06-1.9 .07 .8 .07 .2 .06 .7 .07-2.1 .06 3.4 .07-5.3 .06 9.5 .07-6.7 .06-.9 .07 6.1 .07-3 .06-6.2 .07 5.2 .06 2.6 .07 7.4 .06-11.7 .07 .8 .06-1.8 .07-5 .06 7.2 .07-.5 .07 2.9 .06-2.2 .07-.1 .06-2.8 .07 .7 .06 4.7 .07-1 .06-6.6 .07 8.3 .07-6 .06-3.1 .07 3.4 .06 1.4 .07-3.9 .06 2.9 .07 1.9 .06 .7 .07-4.8 .07 1.6 .06-3 .07 6.7 .06-.1 .07 .4 .06-2.5 .07 3.4 .06-5.7 .07 2.1 .06 4.7 .07 7 .07-4 .06-11.6 .07 5.3 .06-.7 .07 2 .06-2.9 .07 11.6 .06-3.1 .07-1.3 .07-6 .06-2.3 .07 .8 .06 2.2 .07 4 .06-7.3 .07 4.3 .06-1.4 .07 .2 .06 1.4 .07 .9 .07-.5 .06 2.5 .07-5.9 .06 1.9 .07-4.2 .06 10 .07-10.5 .06 4.4 .07 .3 .07 2.3 .06 0 .07 2.4 .06-8.5 .07 4 .06-3.3 .07-.4 .06 4.7 .07-.9 .06 .3 .07-4.8 .07 3.1 .06-.1 .07-1.9 .06 2.8 .07-7.5 .06 10.5 .07-9.9 .06 1.6 .07 9 .07-7 .06 2 .07-2.1 .06 7.4 .07-5.6 .06 4.8 .07-2.3 .06-6.2 .07 5.5 .07 7.5 .06-.6 .07-3.4 .06-7.6 .07 6.1 .06 3 .07-9.4 .06 3 .07-.9 .06 4.6 .07-7.8 .07 5.4 .06 6.6 .07-3 .06-1 .07-2.4 .06-3.3 .07 5.3 .06-.5 .07-9.9 .07 7.5 .06 2.2 .07-2 .06 4.5 .07-6.3 .06-1.5 .07 6.5 .06-6.6 .07 4.5 .06-2 .07 3.6 .07 .2 .06 2.5 .07-6.1 .06 1.8 .07-.1 .06 3.1 .07 .1 .06-1.9 .07-3.9 .07 .6 .06 3.5 .07-3.4 .06-5.2 .07 5.8 .06-6.8 .07 5.7 .06-3.2 .07 6.6 .06-6.1 .07 8.4 .07-5.1 .06 2.1 .07 5.9 .06-2.3 .07-8.8 .06 2.3 .07-5.2 .06 6.2 .07 11 .07-11.2 .06 2.9 .07-.2 .06 .6 .07 .3 .06 .7 .07-7.8 .06 2.8 .07 3.9 .07-.8 .06-4.9 .07 2.1 .06 .6 .07 5.1 .06-2.8 .07 2.4 .06 6.2 .07-13.3 .06 4.3 .07 .3 .07 1.9 .06-6.1 .07-4.7 .06 5.4 .07-1.3 .06 7.7 .07-5 .06-.1 .07-4.5 .07 5.2 .06 3.4 .07-3.1 .06 1.3 .07-6.7 .06 2.8 .07 1.1 .06 .6 .07-2.4 .06 4.8 .07 1.5 .07 3.4 .06-10.9 .07 2.4 .06-.4 .07 2 .06-5.6 .07 9.3 .06-7.7 .07 7.2 .07-1.4 .06 2.8 .07-4.7 .06 1.4 .07-2.6 .06 3.6 .07 2.9 .06-6.9 .07-2.6 .07 2 .06 2.8 .07-1.7 .06 7.5 .07-4.8 .06-7.3 .07 4.5 .06 4.6 .07-6 .06 3.4 .07-3 .07 7.6 .06-3.2 .07-3 .06 .1 .07-.9 .06 2 .07 .7 .06-2.4 .07-1.4 .07 8.4 .06-4.2 .07-.4 .06-1.5 .07-2.8 .06 8.3 .07-7.5 .06 8.9 .07-3.5 .06-.8 .07-.9 .07 1.2 .06-.3 .07-.6 .06 .2 .07 5.1 .06-1.6 .07-3.4 .06-3.4 .07-1.7 .07-6.1 .06 9.3 .07 3.1 .06-3.4 .07-2.9 .06 3.1 .07 4.2 .06-3.4 .07-.2 .06 4.8 .07-.7 .07-8.5 .06 12.1 .07-8.4 .06 1.5 .07-5.8 .06 2.7 .07 5.2 .06-7.5 .07 6.4 .07-8.9 .06 1.1 .07 6.1 .06-3 .07 2.1 .06 3.8 .07-6.9 .06 2.3 .07-1.5 .07-.8 .06-3.7 .07 3.8 .06 4 .07-.7 .06-1.1 .07 1.9 .06 .4 .07-7.4 .06 4.8 .07-7.9 .07 12.3 .06-2.5 .07 1.3 .06-.1 .07-.4 .06-.6 .07 1.1 .06-7.8 .07 3.9 .07 5 .06-.7 .07-4.5 .06 .7 .07 5.1 .06-6.4 .07 8.2 .06-3.3 .07-7.7 .06 17.3 .07-10.6 .07-4.2 .06 4 .07 2.2 .06 .4 .07 4.2 .06-2.7 .07-4.8 .06 2.2 .07-1.9 .07 .4 .06-1.5 .07 9.7 .06-7.6 .07 .1 .06 .4 .07 1.5 .06 4.6 .07-11 .06 .5 .07-6.8 .07 7 .06-3.1 .07 3.6 .06 3.4 .07-3 .06 5.8 .07-4.9 .06 1.2 .07 3.3 .07-8 .06-1.6 .07 4.3 .06-2.7 .07-1.5 .06 6.3 .07 4.2 .06-1.4 .07-5.7 .07 1.6 .06 6 .07-9.8 .06 3.8 .07-4.9 .06 1.7 .07 5.5 .06-1.9 .07 3 .06 .3 .07-1.9 .07-2.8 .06-3 .07 7.9 .06-5.6 .07 2.3 .06 .9 .07-4.7 .06 5.2 .07-8.5 .07 9 .06 1.5 .07-6 .06 7.8 .07-.9 .06-3.5 .07-.7 .06 1 .07 5.9 .06-2.2 .07-6.5 .07-.1 .06 5.4 .07-4.4 .06 .2 .07-2.9 .06 6.2 .07-7.7 .06 6.6 .07-6.6 .07 1.8 .06 8.6 .07-4.2 .06-2.1 .07-2.6 .06 8.4 .07-3.1 .06-3.9 .07 .5 .07 5.4 .06-.6 .07-4.6 .06 6.8 .07-6.1 .06-2.4 .07 3.1 .06 9.5 .07-15.7 .06 2.2 .07-.9 .07 2 .06 8.9 .07-10.9 .06 3.8 .07-2.1 .06 3.8 .07 .3 .06 0 .07-9.3 .07 7.5 .06 1.7 .07 3.8 .06-6.2 .07 1.6 .06-.5 .07-2.9 .06 .9 .07 2.6 .06-.8 .07 .5 .07-2.3 .06 .1 .07 2 .06 3.5 .07-6 .06-.2 .07 6.9 .06-5.1 .07 3.4 .07 5.7 .06-7.6 .07-3.5 .06 6 .07-.1 .06-6.1 .07 7.5 .06 1 .07-3.8 .06-3.3 .07 0 .07 4.1 .06-.8 .07-1.6 .06 1.9 .07 1.7 .06 .8 .07-6.4 .06 3.3 .07-10.3 .07 7.3 .06 4.9 .07-2.7 .06-1.2 .07-.2 .06-.2 .07 0 .06 2.3 .07-3 .07-5.4 .06 9.3 .07-.2 .06-3.9 .07-1.9 .06 1.5 .07-1.4 .06 4.5 .07 .6 .06-3.1 .07-.1 .07-3.5 .06 .4 .07 12 .06-9.2 .07 5.1 .06 5.1 .07-8.9 .06 2 .07 .7 .07 3.3 .06-1 .07-2.8 .06 4.5 .07-4.9 .06-.7 .07 .9 .06-1.6 .07 1.4 .06 3.8 .07-.5 .07-4.1 .06-2.9 .07 2.8 .06 2.3 .07-2.3 .06 7 .07-1.2 .06-3.9 .07-1.1 .07 1.5 .06-.8 .07 3.3 .06-2.2 .07-2.9 .06 7.4 .07-2.3 .06-3 .07-9 .06 5.4 .07-3.1 .07 .8 .06 6.3 .07-1.4 .06 3.9 .07-10.3 .06 3.6 .07 .5 .06-.2 .07 .7 .07 .9 .06-.3 .07-3.3 .06 7.1 .07 .9 .06-3.7 .07-4.1 .06 3.2 .07 1.6 .07-3.6 .06 2.5 .07 7.1 .06-3.2 .07 3.9 .06-6.6 .07 .8 .06-3.2 .07-5.9 .06 9.6 .07-2.1 .07 1.3 .06 8.6 .07-7.2 .06-.2 .07-4 .06 4.4 .07 1.6 .06-6.6 .07 2.3 .07 2.9 .06-.5 .07-1.6 .06-3.9 .07-2.1 .06 9.6 .07-10.8 .06 6 .07-1.1 .06-2.1 .07 6.8 .07-6.5 .06 7.7 .07-3 .06 1.4 .07-9 .06 .2 .07 3.1 .06 .9 .07 3.6 .07-8 .06 1.2 .07 1.8 .06 3.6 .07 .8 .06-1 .07-4.9 .06 8 .07-3.8 .07-5.3 .06 2.6 .07-3 .06 4.7 .07-.1 .06-3.3 .07 2.5 .06 1.1 .07 3 .06 3.4 .07-10.4 .07 6.6 .06 1.2 .07-7.3 .06 7.8 .07 1.6 .06-2.7 .07-1.8 .06-1.2 .07-.8 .07-1.7 .06 3.9 .07-1.7 .06 1.6 .07 2.9 .06-4.7 .07 .2 .06-5.3 .07 4.4 .06 4.6 .07-4.6 .07 3 .06-9.2 .07 14.3 .06-3.7 .07 0 .06-2.7 .07 .9 .06 5.1 .07 .9 .07-7.1 .06-4.5 .07 0 .06 6.5 .07-3 .06 6.1 .07 .6 .06-9.4 .07 2 .06 4 .07-.4 .07-4.5 .06 2.1 .07 2.3 .06-2.2 .07 1 .06 1.4 .07 1.1 .06-5.7 .07 4.9 .07 4.4 .06-12.4 .07 2 .06 2.5 .07 2 .06-.9 .07 5.8 .06-5 .07-1.1 .07 2 .06-2.5 .07 4.2 .06-3.3 .07 6.1 .06-5.4 .07 2.1 .06 2.5 .07-2.7 .06-2.1 .07 2.2 .07-5.3 .06 5.7 .07-5.7 .06 .7 .07 4.7 .06-7.1 .07 9.7 .06-6.6 .07 1.6 .07-3.8 .06 9.5 .07 .7 .06-3.2 .07-3 .06-.2 .07 .2 .06 1 .07 2.8 .06 1.1 .07-3.3 .07-3.3 .06-1.7 .07 5.3 .06-5.5 .07 8.4 .06-7.3 .07 6.4 .06-5 .07 4.6 .07 0 .06-1.5 .07-6.8 .06 8.4 .07-5.6 .06 1.6 .07-.5 .06 0 .07-1.1 .06 6.3 .07-4.4 .07-.9 .06 4.2 .07-4.3 .06 4.8 .07-6.1 .06 5 .07-1.5 .06-3.7 .07-1 .07 5.7 .06 1.3 .07-8.4 .06 15.1 .07-14.6 .06 .2 .07 8.1 .06-7.8 .07 2.9 .07-1.1 .06 10.4 .07-6.3 .06-1.1 .07 .8 .06-.1 .07-.3 .06 8.9 .07-9.2 .06 1.7 .07-2.1 .07 1.4 .06-1.7 .07-1 .06-5.2 .07 9 .06-8.7 .07 6.7 .06 2.3 .07 1.9 .07-8 .06 8.2 .07-8.4 .06 2 .07 3.2 .06 .3 .07-4 .06 1.2 .07-2.1 .06 2.6 .07 1.8 .07-3.7 .06 8.1 .07-9.1 .06 2.7 .07 4.1 .06-.4 .07-2.4 .06 5.2 .07-11.1 .07-.2 .06 8.8 .07-3.2 .06-6.5 .07 4.5 .06 4.9 .07 4 .06-1.8 .07-9.8 .06 3 .07 5.7 .07-7.1 .06 3.8 .07 1 .06-.5 .07-.2 .06-10.3 .07 12 .06-1.9 .07-6.1 .07-.6 .06 8.7 .07-10.6 .06 3.3 .07 9.1 .06-11.5 .07 11.5 .06-8.8 .07 7.6 .07 5.3 .06-12.3 .07 1.5 .06 1.8 .07-1 .06 1.1 .07 .5 .06 2.8 .07-5.7 .06 1.9 .07 1 .07 2.1 .06-2 .07 4.3 .06-4.2 .07 2.3 .06-7.9 .07 7.8 .06-1.7 .07-1.7 .07-2.7 .06 1.2 .07 1.5 .06-9.5 .07 9.7 .06-1.2 .07-8.5 .06 14.3 .07-8.1 .06 1.8 .07 6.2 .07-2.4 .06-5.1 .07 8 .06-4.5 .07-3.9 .06 4.1 .07-1.7 .06 4.4 .07-1.3 .07 0 .06-1 .07-3.4 .06 1.9 .07-6.6 .06 5 .07 .9 .06-6.9 .07 8.3 .07 2.4 .06-3.6 .07 4.6 .06-5.6 .07-3 .06 2.6 .07 4.4 .06-1.7 .07-2.2 .06-2.4 .07 6.2 .07-.6 .06-7.2 .07 4.5 .06 0 .07-.5 .06 4.4 .07-1.9 .06-4.5 .07 4.2 .07 .2 .06-2.3 .07 .2 .06-7.5 .07 11.7 .06-3.3 .07-6.6 .06 7 .07-1.3 .06 6.5 .07-8.5 .07 .3 .06-1.3 .07 5 .06-1.9 .07 1.5 .06-3.2 .07 3 .06-2.8 .07 7.5 .07-3.6 .06 8.9 .07-9.5 .06-3.2 .07 3.6 .06-9.2 .07 13.5 .06-4 .07 2 .06-1.5 .07-.1 .07 3.6 .06-1.8 .07-10.6 .06 8.1 .07-5.7 .06 11.5 .07-6.3 .06-2.3 .07 2.5 .07 1.2 .06-1.2 .07-.7 .06-2.8 .07-3.5 .06 11 .07 2.6 .06-6.5 .07-.7 .07-2.5 .06-1.3 .07 7.3 .06-13.1 .07 8.7 .06 10.2 .07-12.7 .06 2.4 .07 0 .06 6.6 .07-4 .07-2.2 .06 1.1 .07-2.9 .06-2 .07-1 .06 1 .07 4.9 .06-6.6 .07 5.2 .07-2.1 .06 3.8 .07 4.1 .06 3.1 .07-8.7 .06 4.3 .07-3.6 .06-3.2 .07 8.6 .06 .8 .07-7.1 .07-.4 .06 2.2 .07 1.8 .06 5.7 .07-8.1 .06 2.3 .07-4.1 .06-1.8 .07 5.2 .07-3.4 .06 .8 .07-1.8 .06-2.9 .07 3.1 .06-.2 .07-.3 .06 4.3 .07-1.5 .06-1.2 .07-3.2 .07-.2 .06-3.4 .07 11.8 .06-3.7 .07 6 .06-4.2 .07 3.9 .06-9.9 .07 1.4 .07 6.5 .06-5 .07-1.4 .06-3.5 .07 3.2 .06 2.4 .07 .8 .06-3.6 .07 2.2 .07 2.8 .06 2.6 .07-8 .06 6.2 .07-1.6 .06-3.7 .07 3 .06-4.2 .07 7.9 .06-6.6 .07 7.4 .07 .6 .06-1.6 .07-4.1 .06 2.8 .07 2.4 .06-9 .07 7.6 .06-3 .07-1.3 .07 2.6 .06-3 .07-2 .06 3.6 .07-4 .06 5.8 .07 1.6 .06-4.4 .07 4.1 .06-4.7 .07 1.6 .07 1.3 .06-3.6 .07 .1 .06 12.3 .07-9.3 .06-1.8 .07-1 .06 3.6 .07 2.1 .07-4.4 .06-2 .07 9.6 .06-1.9 .07-3.2 .06 7 .07-7 .06-5 .07 6.6 .07-4.2 .06 3.6 .07-5.3 .06-1.2 .07-1.2 .06 4.3 .07-3.4 .06 1.6 .07 3.8 .06-9.5 .07 9.9 .07-2.7 .06-8 .07 5.5 .06 6 .07-3.9 .06 3 .07-1.5 .06 4.8 .07-6.4 .07 6.6 .06-6.8 .07 0 .06-3.2 .07-3.4 .06 13.7 .07-1.6 .06-.7 .07-1.5 .06-5.1 .07 4.3 .07 .9 .06 1.9 .07-1.8 .06-.6 .07-1.2 .06 4.7 .07-4.8 .06-2.3 .07 .8 .07 5.6 .06-7.3 .07 .1 .06 1.8 .07 7.5 .06-1.3 .07-5.3 .06 5.6 .07 1.6 .06-10.2 .07-.1 .07 .9 .06-4.6 .07 2.1 .06 10.9 .07-10.1 .06 3.6 .07-1.2 .06-3.9 .07 3.9 .07-4 .06 5.4 .07 1.6 .06 1.1 .07-2 .06 5.4 .07-5.7 .06 .2 .07 1.5 .07 6 .06-.3 .07-10.1 .06 7.6 .07-9.9 .06 7.3 .07-3.8 .06 6.4 .07-2.8 .06-1.5 .07-3.9 .07-2.8 .06 2.5 .07 8.5 .06-5.1 .07 .6 .06 2.8 .07-5.5 .06-3.5 .07 7.2 .07-5.6 .06-.9 .07 8.7 .06-10.1 .07 .3 .06 5 .07-5 .06 4.7 .07-2.8 .06 1.8 .07 5.3 .07-3.9 .06 1.5 .07 1.1 .06 2.4 .07-1.3 .06 1.6 .07-8.4 .06 10.9 .07-7.2 .07 2.5 .06 2.2 .07-7 .06 5.4 .07-7.1 .06 5.2 .07-2.1 .06 1.7 .07-2.8 .06-1 .07 4.9 .07-1.6 .06-6.2 .07 8.2 .06-8.4 .07 7.8 .06 .6 .07 4 .06-3 .07 3.2 .07-4.2 .06-5.7 .07 4 .06 1.8 .07 1.5 .06-1.2 .07 2.7 .06-.6 .07-11.4 .07 6 .06 4.1 .07-5.6 .06-2.9 .07 7.6 .06-1.9 .07 4 .06 1.2 .07-10.5 .06-4.7 .07 12.2 .07 3.2 .06-10.8 .07 1.3 .06 2 .07-3.5 .06 6.4 .07-2.2 .06-1.8 .07 3.9 .07-2.8 .06 2.5 .07-2.4 .06 .7 .07 7.9 .06-7.3 .07 5.4 .06-2.1 .07 2.9 .06-8.8 .07 4.1 .07 .2 .06-5.8 .07 1.9 .06 3.3 .07 6.6 .06-9.7 .07 3.2 .06 .4 .07-3.9 .07 4.8 .06-1.9 .07-5 .06 1.7 .07 5.2 .06-7.3 .07 1 .06-2.6 .07 6.9 .07-1 .06-2.9 .07 2.1 .06 1.1 .07 .9 .06 .7 .07 1.2 .06 0 .07-3.7 .06 2.5 .07 3.9 .07-5.2 .06-8.6 .07 4 .06 11.9 .07-4.1 .06-5.8 .07 2.5 .06-.1 .07 .8 .07-.6 .06 3.8 .07-7.8 .06 7.9 .07-3.2 .06-5.9 .07 1.6 .06 3.8 .07 0 .06 2.1 .07-.4 .07-.9 .06-5.5 .07 6.2 .06-3.5 .07 .5 .06 0 .07 2.5 .06-3.6 .07 2 .07 .2 .06 2 .07 9.7 .06-13.9 .07-1.5 .06 5.8 .07-1.1 .06-2.2 .07 5 .06-6 .07 0 .07-.5 .06-.2 .07 9.9 .06-8.5 .07 3.4 .06-5.5 .07 .2 .06 .8 .07 3.2 .07-9.8 .06 9.7 .07 3.5 .06-7.1 .07 8.5 .06-11.9 .07 3.2 .06-1.1 .07 1 .07 2.3 .06 6 .07-2.5 .06-4.1 .07 2.7 .06-2.1 .07 3.7 .06 .4 .07-3.8 .06-1.6 .07 2.6 .07 3.5 .06 2.4 .07-12.9 .06 11.1 .07-1 .06-.5 .07-5.7 .06 5.8 .07-4.5 .07 .8 .06 5.1 .07-4.6 .06 4.9 .07-3.7 .06-3.2 .07 3.4 .06 2.4 .07-1.7 .06-.8 .07-2.5 .07 9.9 .06-1.6 .07-8.2 .06 2.2 .07-.5 .06-.7 .07 1.4 .06 1 .07-2 .07-3.1 .06 2.3 .07 1.1 .06 3.8 .07-4.5 .06 4.9 .07-1.7 .06-2.9 .07 .1 .06-5.3 .07 2.6 .07 1.4 .06 2.9 .07-1.1 .06 .8 .07-6.9 .06 4.4 .07 5 .06-.4 .07-7.3 .07 7.4 .06-4.4 .07 .7 .06-3.1 .07 6.8 .06-4.7 .07 .9 .06-2.1 .07-1.9 .07 4.2 .06 1.3 .07-3.9 .06 8 .07-5.6 .06 4.1 .07 2.9 .06-.8 .07 .3 .06-8.7 .07-.2 .07 2.7 .06-3.2 .07 3.5 .06 1.8 .07 2 .06-6.4 .07-.2 .06-1.5 .07 7.2 .07-1.8 .06 3.7 .07-8.7 .06 1.5 .07 .7 .06 1.8 .07 .5 .06 .7 .07-5.1 .06 6.1 .07-5.4 .07 1.6 .06 5 .07 1.6 .06-1 .07-3.9 .06 4.3 .07-6.7 .06-3.8 .07 4.1 .07 7.8 .06 2.3 .07-11.2 .06-2.2 .07 6.6 .06-3.2 .07 2.8 .06 1.3 .07-5.7 .06 5.4 .07-4.9 .07-6.1 .06 9.5 .07-7 .06 11.1 .07-7.8 .06 3.2 .07-9 .06 8.9 .07 4.3 .07-12.8 .06 14 .07-6.9 .06 4.2 .07-10 .06 7.7 .07-3.4 .06 3.2 .07 3.7 .07 3.7 .06-13.8 .07 5.4 .06 4.9 .07-3 .06-4.5 .07 8.7 .06-13.2 .07 8.8 .06 .4 .07-5.8 .07 3.8 .06 4.3 .07-6.8 .06 1.7 .07-2.4 .06 7.2 .07 .7 .06-6.1 .07 3.7 .07 9.8 .06-9.3 .07-4.2 .06 4.7 .07-9.3 .06 8.6 .07-1.5 .06 5.4 .07-1.5 .06-3.6 .07-2.6 .07 1.3 .06-3.1 .07 11.5 .06-7.8 .07 .6 .06 3.2 .07-3.6 .06 2.5 .07-4.1 .07 2.7 .06-3 .07 5 .06-7.7 .07 3.1 .06-8 .07 9.9 .06 1.3 .07-2.3 .07 2.2 .06 2 .07-3.8 .06 .3 .07 2.1 .06-.9 .07 2 .06-3.9 .07 5.3 .06-10.8 .07 5.9 .07-4.9 .06 9.3 .07-5.5 .06 1.7 .07-4 .06 .4 .07 8.9 .06-9.9 .07 9.4 .07-12.4 .06 7.4 .07 3.9 .06-6.7 .07 2.3 .06 3.7 .07-.9 .06-4.3 .07 6.6 .06-1.8 .07-9.7 .07 9.3 .06-4 .07-.3 .06-1.8 .07 .3 .06 12.1 .07-7.3 .06-5.9 .07 7 .07-9.3 .06 5.6 .07 5.2 .06-6.3 .07-4.9 .06 9.3 .07-4.4 .06 5.1 .07-1 .06-2.5 .07-1.4 .07-.1 .06 1.1 .07-7.8 .06 12.4 .07 2.8 .06-8.6 .07 1.3 .06 5.8 .07-14.3 .07 11.7 .06 5 .07-9 .06-.8 .07-6.1 .06 13.8 .07 1.4 .06-5.8 .07 .5 .07-1.3 .06 2.3 .07 5.8 .06-6.7 .07-4.1 .06-.3 .07 5.1 .06-4.2 .07-.3 .06 3.9 .07-.5 .07-1.4 .06-9.4 .07 9 .06 3.7 .07-2.6 .06 1.5 .07-6.1 .06 11.8 .07-3.8 .07-6.9 .06 1.5 .07 1.3 .06-3.7 .07 8.6 .06-6 .07 5.3 .06 .6 .07-6.4 .06 4.6 .07-1.6 .07-4.6 .06 7.1 .07-5.9 .06-5.9 .07 8.8 .06-4.2 .07 .7 .06 7.3 .07 .3 .07-4.9 .06 7.7 .07-7.8 .06-.8 .07-.7 .06 0 .07-3.1 .06 5.9 .07-6 .06 2.9 .07 0 .07 2.5 .06-4 .07 6.1 .06-5.3 .07-1.4 .06 6.4 .07 1 .06-.7 .07-2.5 .07-1.5 .06-3.4 .07-2.1 .06 1 .07 4.8 .06 2.4 .07 2.9 .06-7.2 .07 1.1 .07 2.8 .06-.4 .07-.2 .06 8.8 .07-9 .06-1.4 .07 1.7 .06 3.3 .07-3.9 .06-1.6 .07-4.7 .07 2.6 .06 1.7 .07 2.3 .06 4.6 .07-3.1 .06 3.2 .07-4.5 .06-4.2 .07 .1 .07 .5 .06 3.1 .07-3.4 .06 4.5 .07 6 .06-7.8 .07 .7 .06 6.4 .07-4.4 .06 6.9 .07-7.1 .07-6 .06 6.6 .07-7 .06 3.9 .07 3.5 .06 6.8 .07-12.2 .06 .3 .07 7.7 .07-3.8 .06-5.4 .07 7.9 .06-5.4 .07 8.4 .06-3.7 .07-5.9 .06 6.9 .07 .9 .07 2.3 .06-6.1 .07 4.3 .06-5.3 .07-2.4 .06-3.5 .07 7 .06-7.3 .07 3.8 .06 2.8 .07-3.6 .07-2.6 .06-2.7 .07 5.4 .06 3.1 .07-3.4 .06 2.2 .07 .2 .06-.3 .07-5.6 .07 10.8 .06-4 .07 3.6 .06-7 .07-.9 .06-.8 .07 6.7 .06-2.1 .07-2.5 .06 2.1 .07-.4 .07 .3 .06-.3 .07 1.4 .06-2 .07 6.8 .06-3.7 .07 3.3 .06-4.5 .07 2.3 .07-4.5 .06-2.6 .07 8.9 .06-1.6 .07-4 .06-6.6 .07 5 .06 1.2 .07 1.8 .06 1.4 .07-3 .07-.4 .06 1.2 .07 2.7 .06 3.6 .07-2.7 .06-1.7 .07 4.9 .06-7.4 .07 6.3 .07-4 .06-2.4 .07-1.6 .06 2 .07-3.4 .06 6.4 .07 .7 .06-6.7 .07 7 .07-2.5 .06 5.6 .07-10.2 .06 1.4 .07 6.6 .06 2.2 .07-7.1 .06-.1 .07-3.2 .06-2.4 .07 5.8 .07 1.6 .06 .1 .07 .2 .06 3.8 .07-1.7 .06-2.9 .07 5.6 .06-1.2 .07-9 .07 6.7 .06-5.2 .07-1.1 .06 3.9 .07-2.9 .06 3.6 .07 2.4 .06-2.7 .07-.6 .06-.5 .07 .3 .07 1.8 .06-5.2 .07 4.5 .06 .8 .07-4.8 .06 6.9 .07-3.6 .06-5.3 .07 5.1 .07-4.9 .06 6 .07 .9 .06-1.2 .07 1.4 .06-.8 .07 .3 .06-4.4 .07 1.4 .06 2.2 .07 1.9 .07-12.1 .06 10.5 .07-6 .06 9.1 .07-.3 .06-8.2 .07 8.3 .06-.1 .07-3.6 .07 2.4 .06-1.6 .07-1.6 .06-2.5 .07 2.4 .06-1 .07-3 .06-.4 .07 6.3 .07 5.3 .06-3 .07-7.3 .06 5.5 .07 .8 .06-.9 .07-10.2 .06 8.3 .07 1.6 .06 1.1 .07 1.4 .07-13.3 .06 9.6 .07-.7 .06 1.7 .07-4.9 .06 9 .07 1.6 .06-4.8 .07-3.3 .07-8.2 .06 9.7 .07 2.8 .06-2.3 .07 2 .06 0 .07-3.1 .06-.7 .07 3.4 .06-6.3 .07 4.2 .07-.7 .06 2.3 .07-3.2 .06-.1 .07-.9 .06 5.2 .07-5.1 .06 4.2 .07-2.3 .07-3.7 .06-4.2 .07 9.8 .06 4.2 .07-6.3 .06-3.8 .07 5.5 .06-9.8 .07 18.6 .07-15.3 .06 1.2 .07 .1 .06 7 .07-7.8 .06 .6 .07-.2 .06 5.2 .07 .1 .06-5.5 .07 3.4 .07 2.5 .06 1.7 .07-3.9 .06 5.7 .07-6.9 .06 1.5 .07 6.1 .06-7.1 .07-2.7 .07 2.9 .06 8.4 .07-4.8 .06-5.2 .07 7.6 .06-3.3 .07-5.4 .06 5.1 .07 1.1 .06-5 .07-2.8 .07 4.3 .06 6.1 .07 1.1 .06-4.9 .07 5.5 .06-6.1 .07-3.5 .06 12.7 .07-8.8 .07-2.5 .06 3.7 .07-3.3 .06-.4 .07-1.9 .06-5.7 .07 8.3 .06 4.3 .07 .5 .06 2.8 .07-9 .07 1.3 .06-.4 .07 .9 .06-5 .07 1.8 .06 .3 .07 6.1 .06-1.3 .07 3.5 .07-2.3 .06-2.7 .07 4.7 .06-2.1 .07-9.5 .06 7.9 .07 4.7 .06-.9 .07-4.2 .07-4.9 .06 4.9 .07-5 .06 3.6 .07 5.1 .06-7.7 .07 5.3 .06-8.3 .07 8.8 .06-1.6 .07 1.5 .07-1 .06-2.6 .07 2.3 .06-7.1 .07 4.9 .06-4.1 .07 5.4 .06-4.4 .07 .3 .07 4.8 .06-9.6 .07 3.7 .06 3.4 .07 2.9 .06-.6 .07 .5 .06-1.8 .07 5 .06-4.2 .07 2.3 .07-8.1 .06 3.2 .07-3.2 .06-3.4 .07 7.6 .06-5.4 .07 5.8 .06-.9 .07 5.6 .07-3.7 .06-4.8 .07 3.4 .06 3.1 .07-1.4 .06 2.6 .07-.2 .06 2.7 .07-9 .06 0 .07 4.3 .07 4.4 .06-3.9 .07-8 .06 11.9 .07-3 .06-.1 .07-4.5 .06 7.3 .07-5.4 .07 5.2 .06-3 .07 3 .06-6.2 .07 3.7 .06 1.2 .07-6.9 .06 2.7 .07-7.2 .07 6 .06 2.1 .07-.1 .06-8.9 .07 2.5 .06 7.8 .07-2.1 .06 2.9 .07-4.2 .06 4.2 .07 1 .07-4.4 .06-3.2 .07 1.8 .06 .3 .07 2.5 .06 8.8 .07-8 .06 .1 .07-2.6 .07-4.3 .06 3.5 .07 8.9 .06-6.3 .07 1 .06-3.4 .07 2.7 .06 6.6 .07-3.5 .06-2.1 .07 6.1 .07-6.8 .06 1 .07-5.3 .06 4.3 .07 1.8 .06-1.8 .07-.5 .06-3.4 .07 6.9 .07 4.6 .06-17.4 .07 5.2 .06 4.1 .07-8.5 .06 12.7 .07-1.3 .06-1.2 .07-4.3 .06 4.4 .07-4.5 .07 4.1 .06-5.9 .07 2 .06 8.6 .07-5.9 .06 4 .07-3.6 .06-.5 .07-8 .07 8.9 .06 4.9 .07-6.1 .06 4.5 .07-10.7 .06 4 .07-3.1 .06 7.1 .07 2.3 .07-4.8 .06 6 .07-1.5 .06-.7 .07-2.2 .06 5 .07 1.9 .06-12.6 .07 7.1 .06-1 .07-3.1 .07 .6 .06 3.9 .07-.7 .06-7.4 .07 1.3 .06 1.8 .07-3.3 .06 12.7 .07-7.5 .07 1.7 .06 6 .07-8.2 .06-2.3 .07 2 .06 8 .07-5.7 .06-1.5 .07 1.9 .06-2.2 .07-.8 .07-3.3 .06 4.3 .07-8.6 .06 8.6 .07-.9 .06-1.1 .07 3.1 .06 .8 .07-7.9 .07 14.5 .06-1.3 .07-13.9 .06 4.8 .07 .7 .06 .2 .07 .7 .06 4.5 .07-2.4 .07 2.6 .06-7.8 .07 .6 .06 2.7 .07-.6 .06 1.9 .07 3.7 .06-10.3 .07 3.8 .06 3 .07-2.8 .07-2.5 .06 .4 .07 1.8 .06-.6 .07 3.8 .06-5.7 .07 1.5 .06 0 .07 10.3 .07-10.5 .06 1.2 .07-.5 .06 12.3 .07-2.6 .06-7.8 .07 4.5 .06-4.8 .07 1.7 .06-3.4 .07 5.1 .07 3.6 .06-8.6 .07 4 .06 3.2 .07 3 .06-16.6 .07 10.7 .06-.4 .07 6.2 .07-3.4 .06-3.1 .07-1.8 .06-1.6 .07 5.5 .06-4.4 .07-2.4 .06 6 .07-1.6 .06 6.3 .07-3.6 .07 2.1 .06-7.5 .07 3.1 .06-6.4 .07 5.1 .06-3.8 .07 2.6 .06 1.1 .07 4.6 .07-9.9 .06 6.4 .07 6.3 .06-3.6 .07 1 .06-8.3 .07-1.6 .06 .3 .07-2.4 .07 10.3 .06 4.5 .07-3.4 .06-5 .07 11.4 .06-7.7 .07-5.2 .06 6.2 .07-2.7 .06 2.9 .07-9.7 .07-.8 .06 10.9 .07-.7 .06-3.6 .07-2 .06 .9 .07-.8 .06-1.3 .07-.9 .07-2.5 .06 6.2 .07 2.4 .06-1.6 .07-8.4 .06 5.1 .07 .4 .06-2.3 .07 .4 .06-4.1 .07 11.6 .07-4.4 .06-1.4 .07-.2 .06 4.4 .07 7.3 .06-7.7 .07 1.6 .06-2.2 .07-4.4 .07 1.5 .06 6.8 .07-1.5 .06-3.4 .07-3.5 .06 4.4 .07-1 .06 8.9 .07-6.3 .06 1.2 .07-3.7 .07 1.8 .06 2.2 .07 .8 .06-4.7 .07 3.2 .06-6.6 .07 3.2 .06 2 .07-4.3 .07 7.7 .06-7.7 .07 6 .06-5.3 .07 5.2 .06 1 .07 3.3 .06-7.1 .07-1.5 .07 9.4 .06-14.1 .07 6.5 .06 4.2 .07-11.3 .06 9.3 .07-7.5 .06 15.7 .07-18.3 .06 7.3 .07 .7 .07-1.9 .06 6.1 .07-7.6 .06 1.8 .07 .4 .06 3.3 .07 2.1 .06-5.5 .07-1.7 .07 2.5 .06 1.2 .07 1.2 .06-4.5 .07-2.7 .06 5.9 .07 2.5 .06-12.1 .07 14.7 .06-6.6 .07 1.3 .07-5.2 .06 5.3 .07 5.6 .06-2 .07-4.5 .06 .5 .07 2.3 .06 .6 .07 2.7 .07 2.4 .06-5.8 .07 .2 .06-2 .07 3.8 .06-10 .07 12.1 .06-9.6 .07 1.2 .07-3.8 .06 .7 .07 9.9 .06-6.2 .07-1.4 .06-2.5 .07 3.3 .06 4.9 .07-7.7 .06 5.1 .07 1.4 .07-2.5 .06 2.3 .07 1.9 .06-4.3 .07-8.6 .06 7.5 .07 1.6 .06 1.9 .07-2.9 .07 5.5 .06-6 .07 .8 .06 .6 .07-1.4 .06 2.5 .07-3.2 .06 .5 .07-.1 .06 2 .07-3.2 .07 3.9 .06-5.3 .07 5.1 .06-7.5 .07 6.1 .06 1.1 .07 3.5 .06-6 .07 1 .07 1.2 .06-1.3 .07 1 .06 3.8 .07 .9 .06-6.6 .07 1.7 .06-4.9 .07-3.8 .06 6.3 .07-.6 .07 1.6 .06 1.6 .07 2.7 .06 9.3 .07-14.3 .06 .6 .07 2 .06-.3 .07-3.1 .07 .2 .06 2.1 .07 2.1 .06-3.1 .07-.7 .06-5.1 .07 11.3 .06-5.1 .07 5 .07-1.5 .06-10.2 .07 10 .06-.9 .07 1.5 .06-6.9 .07 6.3 .06 4.6 .07-6.6 .06-2.5 .07 3.1 .07-.6 .06 3.1 .07 .9 .06-3.5 .07 4.2 .06-2.5 .07 2 .06-2.8 .07-3.7 .07 3 .06-4.2 .07 2.8 .06 1.8 .07 2.8 .06-3.7 .07 6.6 .06-8.9 .07 7.6 .06 .2 .07-2 .07 3 .06-6.5 .07 4.6 .06-2.5 .07-3.9 .06 10.3 .07-7.2 .06-2.1 .07-4.4 .07 5.2 .06 2.9 .07-5.8 .06 0 .07-6.1 .06 1.6 .07 8.6 .06-5.7 .07 4.2 .06 4.4 .07-6.2 .07-2.2 .06 13.3 .07-13.4 .06 7.9 .07-11.9 .06 8 .07 .3 .06-4.5 .07 6.8 .07-9.4 .06 11.1 .07-1.3 .06 1.8 .07-5.9 .06 2.2 .07-3.1 .06-1.1 .07 1.1 .07-3.1 .06 2 .07 4.3 .06 2.4 .07 .9 .06-6.3 .07 4.6 .06 1.6 .07-.4 .06-2.3 .07-1.6 .07 1.8 .06 2.8 .07-5.7 .06 10.1 .07-6.9 .06-5 .07 2.9 .06-3.4 .07 4 .07-1.7 .06 1.9 .07 1.7 .06-2.9 .07-2.1 .06 10.6 .07-4.1 .06 4.6 .07-4.2 .06 1.3 .07-2.9 .07 0 .06-6.8 .07 .6 .06 7.4 .07-1.1 .06-4 .07 4.6 .06-.9 .07 5.2 .07-9.3 .06 1.7 .07 4.4 .06 1.3 .07-.9 .06-5.4 .07 4.3 .06 1.7 .07-3.3 .07-4.3 .06-3.5 .07 1.8 .06 4.3 .07-.5 .06-.1 .07-1.4 .06-.7 .07 6.6 .06-.8 .07-1.3 .07-3.9 .06 4.4 .07 .9 .06-8.2 .07 .1 .06 8.6 .07-2.8 .06-4.7 .07 6.4 .07-5.5 .06 8.4 .07-4.3 .06-3.2 .07-3.1 .06 2.1 .07 9.3 .06-.3 .07-2.4 .06-6.2 .07 .4 .07-3.2 .06 3.3 .07 4.6 .06 0 .07 1.1 .06-7.6 .07 9 .06-4.8 .07-.7 .07-5.7 .06 9.4 .07-4.2 .06 5 .07-7.3 .06 5 .07-.2 .06 2.4 .07-1.3 .06 .2 .07-.2 .07-6.3 .06 7.7 .07-4.4 .06-2.2 .07 9.2 .06 1.6 .07-9.5 .06 10.7 .07-6.2 .07-2.4 .06-1.4 .07 2 .06 2.9 .07-7.4 .06 2.7 .07-6.1 .06 10.2 .07-2.9 .07-.2 .06-2.1 .07 1.1 .06 .8 .07-7 .06 7.6 .07-2.2 .06 .9 .07 2.9 .06-4.9 .07 9.4 .07-10.8 .06 9.7 .07-4.5 .06-1.5 .07 2.2 .06 .1 .07-6.2 .06-4.3 .07 4.9 .07 3.1 .06 2.9 .07 .5 .06-7.1 .07 1.1 .06-3.8 .07 3.4 .06-1.2 .07 7 .06 .6 .07 .8 .07-3.5 .06 .6 .07-1.1 .06 4.7 .07-4.9 .06-2.3 .07 2.6 .06 10 .07-9.5 .07 1.1 .06-4.6 .07 4.2 .06-3.1 .07 3.6 .06-3.1 .07-3.4 .06 6.1 .07-2.1 .06 .5 .07-1.6 .07 2.6 .06-2.1 .07 8.3 .06-5.7 .07-3.8 .06 .5 .07 5.9 .06 .9 .07-5.8 .07 .1 .06-.3 .07 1.4 .06-.3 .07-3.2 .06 7 .07 4.2 .06-11.1 .07 6.3 .07-5.1 .06 4.8 .07 1.6 .06-9.5 .07 5.8 .06 4.7 .07-4.2 .06-.1 .07 .1 .06-1.3 .07 4.7 .07-3.1 .06-3.3 .07 .1 .06 1.9 .07 4.6 .06 2.7 .07-12.2 .06 9.1 .07-2.3 .07-1.7 .06-1.5 .07 1.7 .06 2.8 .07-2.8 .06-7.5 .07-1.5 .06 9.6 .07-3 .06 8.5 .07-7 .07-1.8 .06 3.6 .07-7.5 .06 3.3 .07 1 .06 11.4 .07-7.1 .06-4.7 .07 4.3 .07 4.5 .06-4.2 .07-7.5 .06 3 .07-.6 .06 2.3 .07-5 .06 15.7 .07-3.6 .06-13.2 .07 3.1 .07 2.5 .06 3.1 .07 4.5 .06-4.9 .07-1 .06 2.8 .07-8.2 .06 1.2 .07 4.7 .07-4.2 .06 3.4 .07-1.2 .06 3.6 .07-11.4 .06 14.1 .07-4.8 .06-4.2 .07 .1 .07 9.4 .06-2.4 .07-3.1 .06 4 .07-1.9 .06-1.5 .07-.4 .06-6.3 .07 11.8 .06-9.8 .07 4.6 .07-2.9 .06 3.3 .07-9.6 .06 14.8 .07-10.6 .06 6.6 .07-1.6 .06-5.9 .07 5.8 .07-3.9 .06-4.5 .07 9.8 .06-9.3 .07 2.7 .06 5.2 .07-1.6 .06 3.4 .07-3.6 .06-2.1 .07-.4 .07 2.7 .06 2.7 .07 .4 .06 1.1 .07-2.4 .06-3.1 .07 4.2 .06 .3 .07 1.4 .07-5.8 .06 3 .07 4.8 .06-9.7 .07 .2 .06 3.7 .07 1.9 .06-1.7 .07 3.1 .07-8.6 .06 .4 .07 1.3 .06 2.8 .07 0 .06-1.1 .07-4.1 .06 8.9 .07-2.8 .06 2.4 .07 1.8 .07-6 .06-2.3 .07 7.8 .06-7.3 .07 1.2 .06 .7 .07-3.2 .06 7.2 .07-8.1 .07 7 .06-3.2 .07 7.4 .06-8.9 .07 3.3 .06 2.1 .07 1.7 .06-4.7 .07-3.7 .06 2.9 .07 3.1 .07 1.5 .06 1 .07-2.6 .06 4.5 .07-4.3 .06-5.2 .07 4.1 .06 .3 .07 1.6 .07-4.7 .06 .3 .07-2.8 .06 7.6 .07 1.4 .06-1.8 .07 2.3 .06-4.2 .07 1.3 .06 1.6 .07-2.9 .07-3.7 .06 1 .07 4.7 .06-2.3 .07-1 .06-1.2 .07 3.5 .06 3.4 .07-5.8 .07 4.7 .06-2.2 .07-.3 .06-5.8 .07 6.5 .06-2.2 .07 1.3 .06 1.2 .07-5.1 .07 4.8 .06-3.4 .07 .7 .06 7.6 .07-.7 .06 5.3 .07-12.2 .06 .1 .07 2.8 .06 0 .07-.7 .07 1.1 .06-2.1 .07 0 .06 3 .07-8.2 .06 1.5 .07 5 .06-9.1 .07-1 .07 4.2 .06 .2 .07 7.4 .06-2.1 .07 7.3 .06-6.1 .07-5.7 .06 4.9 .07 4.4 .06-11.6 .07-1.3 .07 1.6 .06 10.8 .07-8.3 .06 5.8 .07-2.4 .06-3 .07-2.9 .06 7.6 .07-1 .07 5.5 .06-6.7 .07 3.4 .06-1.7 .07-4.4 .06 2.8 .07-.5 .06-.6 .07-1.9 .06-2 .07 9 .07 1.6 .06-7.5 .07-.7 .06-2.5 .07 2.2 .06-3.4 .07 4.4 .06 4 .07-5.8 .07 6.7 .06 .6 .07-5.2 .06 2.4 .07-4.2 .06 4.6 .07-7.8 .06 10.1 .07-6.1 .07 5 .06-7.6 .07 7.1 .06-4.8 .07 14 .06-8.6 .07-8.5 .06 5.2 .07 .3 .06-2.8 .07-5.4 .07 14.4 .06-5.6 .07 2.2 .06-5 .07 6.3 .06 1.8 .07-.2 .06-7.7 .07 1.6 .07-2.3 .06 8.7 .07-2.5 .06-1.2 .07-5 .06 .6 .07 3 .06 3 .07-4.3 .06 2.4 .07-4.8 .07-3.1 .06 5.8 .07 4.4 .06-12.5 .07 5.1 .06 1.5 .07 1.5 .06-.5 .07 .6 .07-1.1 .06 6.7 .07-1.5 .06-3.5 .07-.8 .06-.2 .07-.9 .06 8.1 .07-3.1 .07-1 .06-2.9 .07 1.2 .06-7.8 .07 8.4 .06-.5 .07 4.7 .06-12 .07 6.2 .06 .7 .07 1.9 .07-2.6 .06 1.5 .07-5.5 .06 7.1 .07-1.3 .06 .4 .07-4 .06 .9 .07-2.3 .07 1.5 .06-.1 .07 1.9 .06-3.1 .07 1.5 .06 .6 .07 6.9 .06-4.1 .07 .8 .06 4 .07-11.1 .07-.5 .06 1.3 .07 1.8 .06-3.2 .07 11.2 .06-10.5 .07 11.8 .06-7.8 .07 .2 .07-1.4 .06-.5 .07-.2 .06 5 .07-.1 .06 .5 .07-3.4 .06 1.7 .07 4.4 .06-9 .07 7.5 .07-2.4 .06 .9 .07 .1 .06-4.7 .07 4.5 .06 2.6 .07-1.6 .06 .2 .07 1.8 .07-8.7 .06-.9 .07 9.2 .06-10.6 .07-1 .06 11.4 .07-6.4 .06 2.5 .07-3.9 .07 13.3 .06-12.6 .07 3.5 .06-3 .07-1.4 .06 11.5 .07-8.2 .06-.2 .07-2.1 .06-1.9 .07 1.3 .07 6.8 .06-6.6 .07 5.2 .06-5.4 .07 3.3 .06 .1 .07-1.2 .06 6.2 .07-4.5 .07 3.1 .06-7.6 .07-1.2 .06 9.6 .07 2.9 .06-8.8 .07 2.8 .06 1.3 .07-11.4 .06 9.6 .07 2.2 .07-2.7 .06-2 .07-4.6 .06 4.5 .07 5.6 .06-1.9 .07-9.1 .06 12.7 .07-6 .07-4.4 .06 3.3 .07 1.7 .06 2.4 .07-4 .06-1 .07 1 .06-2.8 .07 2.5 .06-3.5 .07 4.1 .07-2.7 .06 4.3 .07-7.3 .06 1.7 .07 2 .06 6 .07-4.2 .06 11.1 .07-9.1 .07-1.9 .06 3.6 .07-3.6 .06-1.8 .07-4 .06 6.3 .07 5.6 .06 2.8 .07-7.8 .07-3.7 .06-.8 .07 3.6 .06 2.7 .07 .1 .06-2 .07-.8 .06-1.8 .07 1.7 .06-6.7 .07 6.6 .07-1.2 .06-2 .07 .4 .06 5.6 .07 3.5 .06-1.2 .07-5.9 .06-.8 .07 .9 .07-1.6 .06-1.8 .07 7.3 .06-11.8 .07-.3 .06 6.7 .07 3.3 .06-1.5 .07 5.9 .06-5.1 .07 3 .07-2.6 .06 .8 .07-8.4 .06 10.3 .07-4.1 .06 2.5 .07-7 .06 1.8 .07 9.2 .07-1.9 .06-4.5 .07 3.2 .06-3.8 .07 1.3 .06 4.1 .07-2.8 .06-2.7 .07 1.9 .07-.7 .06-.8 .07 1.7 .06-5.2 .07 9.3 .06-6.2 .07 3.5 .06-4 .07-.8 .06 .7 .07-.1 .07-.3 .06 .8 .07 2.7 .06-3.4 .07-.9 .06 .4 .07 2.1 .06 0 .07 8 .07-4.1 .06-2.2 .07-4.3 .06-.7 .07 3.8 .06 4.5 .07-5.7 .06-1.8 .07 .8 .06 5.2 .07 1.3 .07-.6 .06 .6 .07-7.3 .06 2.4 .07-6.6 .06 1.9 .07 2.2 .06 6 .07-4.7 .07 .7 .06 6.6 .07-.5 .06-1.9 .07-7.1 .06 5.9 .07 3.5 .06-5.2 .07-1.8 .06 6.4 .07-11.1 .07 9.5 .06-6.4 .07 1.3 .06 5 .07-2.1 .06-.5 .07 1.3 .06-3.9 .07 2.5 .07 6.3 .06-6.7 .07 4.6 .06-3.2 .07-1.7 .06 1.3 .07-4.1 .06 3.9 .07 1.6 .07-7.7 .06 3.2 .07 3.1 .06-.5 .07 1.5 .06-1.7 .07 3.7 .06-9.7 .07 1.9 .06 12.4 .07-4.6 .07-3.3 .06 3.3 .07 4.2 .06-10.1 .07 6.7 .06-6.6 .07 .8 .06-3.8 .07 8.6 .07-9.7 .06 13 .07-11.9 .06 1.6 .07 2.2 .06 5.5 .07-9.7 .06 2.9 .07 8.8 .06 5.4 .07-7.8 .07-.5 .06-5.6 .07 2.1 .06-.7 .07 3.9 .06-6.1 .07 5.4 .06 6 .07 3.3 .07-13.2 .06 4 .07 4 .06-3 .07-1.7 .06-3.9 .07 10.1 .06-5.5 .07-4.8 .06 .1 .07-.4 .07-6.6 .06 14.1 .07-2.4 .06-6 .07-2 .06 3.9 .07 3 .06 3 .07-6.4 .07 1 .06 5.1 .07-2 .06 1.6 .07-5.5 .06 2.6 .07-5 .06-.4 .07 3.6 .07-3 .06 .5 .07-1.7 .06 7.1 .07-4 .06-4.3 .07 4.2 .06 3.8 .07-2.4 .06-7.3 .07 9.6 .07 .8 .06-5.4 .07 4.5 .06 4.3 .07 0 .06-5.7 .07 2.3 .06-7.5 .07 7.4 .07 2.8 .06-2.2 .07 1.7 .06-8.6 .07 7 .06-8.2 .07 3.3 .06-5.2 .07 7.6 .06-3.4 .07 10.5 .07-5.8 .06 1 .07-6.8 .06 4.6 .07-2.9 .06 5 .07 2.1 .06-4.4 .07-4.9 .07 4.8 .06-5.8 .07 6.8 .06 .1 .07 0 .06-.3 .07 1.5 .06-1.6 .07 2 .06 .8 .07-9.1 .07 2.3 .06 4.6 .07 .7 .06 3.4 .07-7.7 .06 4.5 .07-9.3 .06 13.2 .07-7.5 .07-3.1 .06 6.2 .07-9.2 .06 3.7 .07 0 .06 6.7 .07-6.8 .06 .1 .07 3.1 .07-6 .06 5.3 .07 9.3 .06-10.2 .07-4.2 .06 8.4 .07-4.8 .06 4.9 .07-2.4 .06 9.9 .07-3.2 .07-5.5 .06 1.1 .07 4.6 .06-10.7 .07 2.7 .06 4.5 .07 7.8 .06-13.1 .07 3.9 .07-4.4 .06-1.4 .07 5.3 .06-.4 .07-3.5 .06 4 .07 5.9 .06-9.3 .07 .4 .06 4.8 .07-4.9 .07 3.3 .06 .1 .07-4.3 .06 7.8 .07 .9 .06-5.2 .07 4.2 .06-7.9 .07 5.8 .07 3.6 .06-4.8 .07 6.6 .06-15.5 .07 7.6 .06-2.6 .07 .6 .06 1.1 .07 4.5 .07-6.6 .06 4 .07 1.6 .06 4.6 .07-12 .06 5.5 .07 .6 .06 5.4 .07-10.2 .06 3.7 .07-5.8 .07 5.6 .06 2.9 .07-5.1 .06 7.7 .07-.1 .06-5.3 .07-2.9 .06-1.4 .07 4.4 .07 .1 .06-1.2 .07 1.5 .06 1.1 .07-3.6 .06 3.6 .07-1.1 .06-5 .07 3 .06 3.1 .07-4.4 .07 3.1 .06-3 .07 5.5 .06-.3 .07 2.4 .06-9.2 .07-1 .06 .8 .07 3 .07 .5 .06 2 .07-3.3 .06 2.7 .07 3 .06-7.2 .07 .4 .06 1.3 .07 2.1 .06 1.1 .07-1.7 .07-.4 .06 4.9 .07-2.5 .06 2.2 .07-7.8 .06 8.8 .07-.5 .06-1.2 .07-3.7 .07 3.9 .06-9.5 .07 3.6 .06 11.1 .07-9.7 .06 0 .07 5.7 .06-4.2 .07-.6 .07 2.6 .06-1.9 .07-1.6 .06 3.1 .07-1.6 .06 4 .07-6.5 .06 4.5 .07-6.6 .06-3 .07 1.4 .07 7.6 .06-3.9 .07 3.7 .06-3.9 .07 5.4 .06 .7 .07-3.5 .06 2.7 .07-7.2 .07 1.8 .06 1.4 .07 1.7 .06 .1 .07-4.1 .06 3.2 .07 .2 .06-6.6 .07 6.1 .06 1.5 .07-.1 .07-5.4 .06 6.3 .07-.1 .06-5.6 .07-.2 .06-.9 .07 8.1 .06-4.6 .07 3.5 .07-3.5 .06 7.1 .07-4.9 .06-4.5 .07 3.1 .06 9.3 .07-12.1 .06 2.2 .07 2.3 .06-1 .07 1.2 .07-5.3 .06 4.2 .07 8.5 .06-5.6 .07-8.8 .06 1.8 .07 1.2 .06 5.6 .07-4.7 .07-1.8 .06 3.3 .07-2.2 .06-1.5 .07 .4 .06 2.1 .07-.1 .06 6.1 .07-3.4 .07-4 .06-3.1 .07 5.4 .06-3.2 .07 3.8 .06 5.2 .07-6.7 .06-.1 .07 4.8 .06 1.4 .07-4.7 .07 2.8 .06-4.4 .07 6.6 .06-7.8 .07 5.1 .06-3.4 .07 9.5 .06-11.6 .07 2.6 .07-6.8 .06 13.4 .07 .6 .06-9 .07-.6 .06 9.5 .07-8.3 .06-1.4 .07-1.7 .06 4.6 .07 5.9 .07 1.4 .06-14.3 .07 6 .06-2.1 .07 4.7 .06-.3 .07-.1 .06 2.6 .07-2.3 .07 2.9 .06-2.5 .07-5.4 .06 3.8 .07 3.7 .06-12.8 .07 4.6 .06 4.5 .07 6.3 .07-10.8 .06-2.4 .07 9.1 .06-7.2 .07 8.1 .06-2 .07 .7 .06-2.3 .07 1.1 .06-5.6 .07 6.4 .07-2.9 .06 1.5 .07-.8 .06 3.9 .07-2.8 .06-5.1 .07 2 .06 7.1 .07-2.7 .07 2.1 .06-1 .07-.3 .06 4.2 .07-8.1 .06-1.6 .07 2.7 .06 2.2 .07-2.2 .06 3.2 .07-6.4 .07-4.6 .06 19.7 .07-13.5 .06 1.8 .07-.4 .06 1.7 .07 4.4 .06-5.1 .07 1.2 .07-1 .06-.3 .07 1.6 .06-9.9 .07 14.7 .06-5.2 .07 3.2 .06-4 .07-6.1 .06 5.7 .07 2.8 .07 1.8 .06-6.7 .07 4.5 .06-5.9 .07 5.8 .06-.6 .07-1.6 .06 5.6 .07-10.1 .07 8.3 .06-4.6 .07-1 .06-6.8 .07 6.7 .06-2.8 .07 6.3 .06-1.3 .07-.5 .07-3.8 .06 7.3 .07-5 .06-8.1 .07 13 .06 3.1 .07-4.7 .06-1.4 .07-6.4 .06 4.2 .07-2.3 .07 6.6 .06-2.4 .07-1.2 .06 4 .07-4.5 .06 2.5 .07-1.8 .06 5.8 .07 2.3 .07-12.1 .06 4.5 .07 .7 .06-9.6 .07 5.6 .06 2 .07 3.9 .06-4.4 .07 1.2 .06 1.7 .07-8.6 .07 5 .06 .7 .07 6.2 .06-1.8 .07-6.4 .06 3.1 .07 2.8 .06-3.1 .07 1.1 .07 1.6 .06-.9 .07-3.3 .06 1.5 .07 4.2 .06-.4 .07-4.4 .06 5.4 .07-4.1 .06 .9 .07 4.2 .07 3.8 .06-4.1 .07-4.3 .06-.1 .07-4.3 .06 4.4 .07 .3 .06-1.6 .07 2.9 .07-7.7 .06 8.2 .07 1 .06-1.3 .07-6 .06 6.3 .07 1.9 .06-6 .07-2.1 .07 5.7 .06-4 .07 4.8 .06-7.2 .07 8.7 .06-2.8 .07 .5 .06 1.8 .07-3 .06-2.7 .07 5.4 .07-9.7 .06 5.9 .07-.4 .06 4 .07-2.5 .06-3.4 .07 6.7 .06-1.1 .07 .5 .07 1.7 .06-6.9 .07 5.1 .06-11.6 .07 13.2 .06-3.2 .07-1.4 .06 3.7 .07 4 .06-5.2 .07-2.2 .07 4.9 .06-6 .07 7.6 .06-7.7 .07-6.3 .06 4 .07-1.9 .06 6.5 .07 .3 .07-5.5 .06 5.2 .07-3.5 .06 5.7 .07-4.8 .06 .8 .07 11.9 .06-10.9 .07-3.4 .07 1.1 .06 .6 .07-3.3 .06 4.9 .07 2.4 .06-5.9 .07-6.4 .06 10.8 .07-6.6 .06 6 .07 4.7 .07-2.1 .06-.2 .07-7.1 .06 3.7 .07 3.3 .06-3.4 .07-7 .06 7.8 .07 2.2 .07-3.8 .06 4.2 .07-4.7 .06-1.7 .07 2.8 .06 2.2 .07-1.9 .06 5.4 .07-10.6 .06-2.8 .07 8.3 .07 7.4 .06-4.9 .07 2.7 .06 1.5 .07-6.1 .06 .1 .07 1.6 .06-6.1 .07 3.7 .07 3.7 .06-5 .07 6 .06-3.3 .07 1.8 .06-4 .07 2 .06 1.1 .07-3 .06-.8 .07 .8 .07-3.1 .06 7.7 .07-5.1 .06-4.5 .07 5.9 .06 7.8 .07-11.3 .06 4.2 .07-3 .07 1.3 .06-1.2 .07-2.1 .06 3.8 .07-2.3 .06 7.4 .07-1.4 .06-2.8 .07-6 .07 8.5 .06-1.7 .07-3.6 .06 4.3 .07 2.7 .06 2.4 .07-11.2 .06 8.2 .07-5.2 .06-.6 .07 5.3 .07-5.1 .06 9.2 .07-7.2 .06 3.3 .07-4.5 .06 .1 .07 .1 .06-1.6 .07 4.5 .07 2.8 .06 1.5 .07-10.1 .06 7.2 .07-1.8 .06-3.1 .07 1.8 .06 2.9 .07 4 .06-10.8 .07 6.4 .07 2.7 .06-3.5 .07-2.4 .06 7.1 .07-7.5 .06 .5 .07-1.6 .06 1.6 .07 3.6 .07 5.1 .06-8 .07 1.2 .06-7.3 .07 6.5 .06-2.5 .07 1.2 .06 6.5 .07-8.9 .06 4.3 .07 3.5 .07-6.6 .06-2.9 .07 4.8 .06 .6 .07 1.2 .06-.7 .07-5.5 .06 3.7 .07-1.2 .07-.6 .06 12.4 .07-10.9 .06-1.4 .07 1.2 .06 6 .07-2.4 .06-5.2 .07 .9 .07-.1 .06 5.6 .07-5.4 .06-3.7 .07 4.9 .06-4.6 .07 1.7 .06 .2 .07 6.5 .06-1.3 .07 .1 .07-6.5 .06-.3 .07 8.1 .06 .8 .07-4.9 .06-4.2 .07 3.6 .06-1.2 .07 .5 .07-.3 .06 2.5 .07-2.2 .06-.7 .07 2.8 .06-6.3 .07 9.6 .06-2.3 .07 1.6 .06-6.8 .07 0 .07 6.4 .06-2.9 .07 1.9 .06 3.2 .07-2 .06-4 .07-.8 .06 4.6 .07-2.6 .07-2.9 .06-2 .07 3.7 .06 4.1 .07 2.6 .06-5.8 .07 2 .06 .3 .07 .4 .06-.4 .07-2.6 .07-1.8 .06 5.3 .07-9.4 .06 1.5 .07 5.8 .06-1.9 .07-4.3 .06 8.6 .07-1.1 .07 0 .06 1.4 .07-6 .06 3.2 .07-1.1 .06 .1 .07 1 .06-6.1 .07 5.9 .07 2.5 .06 1.8 .07-2.5 .06-3 .07-.2 .06-.2 .07 2.5 .06-3.7 .07-.1 .06 6.5 .07-5.6 .07 0 .06 2.4 .07-4.8 .06 3.6 .07 2.9 .06-6 .07-2.9 .06 10.3 .07-3.8 .07-3.4 .06 1 .07-1.4 .06-3.4 .07 13.2 .06-8.7 .07 8.1 .06-2.4 .07 .5 .06-5.5 .07 7.5 .07-6.1 .06 5.6 .07-12.3 .06 8.9 .07-1.8 .06 4.1 .07-2.1 .06-6.7 .07 3.8 .07 4.9 .06-2.3 .07-1.2 .06-6.7 .07 6.5 .06-1.9 .07-2.2 .06-4.6 .07 4.9 .07 7.2 .06-.3 .07-9.5 .06 4.6 .07 8.2 .06-5 .07 .7 .06-1.3 .07-3.4 .06-.1 .07-4.7 .07 13.7 .06-7.7 .07 2.1 .06 2.7 .07-6.7 .06 7.6 .07 .2 .06-10.6 .07 4.3 .07-1.5 .06-1.7 .07 9.1 .06-9.3 .07 4.5 .06-1.6 .07-.9 .06 .6 .07 3.6 .06-1.3 .07-.7 .07-3.1 .06 11.5 .07-12.8 .06 8.3 .07-12.9 .06 7.9 .07-7.6 .06 10.1 .07-6.9 .07 4.6 .06 0 .07-.1 .06 10.4 .07-3.6 .06 .5 .07-6 .06 1.1 .07-3.7 .06 1.6 .07-3.1 .07 6.9 .06-3.8 .07 3.9 .06 1.5 .07 2.2 .06-6 .07 3 .06-1.4 .07 1.5 .07 .5 .06-13.5 .07 9.5 .06 4.8 .07-3.6 .06-1.1 .07 5.3 .06-10.9 .07 9 .07-5.2 .06 3.5 .07 1.3 .06-12.6 .07 13 .06 2.1 .07-3.5 .06 1.7 .07-9.3 .06 4.2 .07 5.8 .07-10.5 .06 7.1 .07 3.8 .06-8.5 .07 1.5 .06 6 .07 .4 .06-3.5 .07 3.2 .07-6.6 .06 1.9 .07 5.2 .06-.3 .07-2.5 .06-6.1 .07 7 .06-4.5 .07 4.5 .06-3.9 .07 3.6 .07-3.5 .06 6.4 .07-2.2 .06-9.6 .07 3.6 .06 7.8 .07-8.7 .06 4.8 .07-5.4 .07 9.6 .06-4.4 .07 1.2 .06 .9 .07 1.7 .06-11.1 .07 7 .06 1.1 .07 4.8 .06-10 .07 0 .07 4.6 .06 4.3 .07-7 .06 2.2 .07 5.1 .06-12.7 .07 4.9 .06 6.1 .07 .9 .07-7.2 .06-1.5 .07 2.1 .06 .3 .07 3.2 .06-8.8 .07 8.9 .06-2.3 .07-.6 .07 2.3 .06-3.8 .07-2.7 .06 13.5 .07-7.2 .06-5.3 .07-.5 .06 6.7 .07-4.1 .06 1.7 .07 .2 .07 2.7 .06-5.8 .07-.7 .06-1.5 .07 4.8 .06 .5 .07-3.6 .06-5.5 .07 10.4 .07-.6 .06-6.6 .07 10.4 .06 5 .07-14.4 .06 .3 .07 .2 .06 1.2 .07-2.4 .06 8.5 .07-6.3 .07 7.3 .06 2.1 .07-4.8 .06 3.8 .07-.7 .06-1.6 .07-.8 .06-2 .07 4.2 .07-1.5 .06-1.6 .07-1.4 .06-.9 .07-1 .06 1.9 .07-.8 .06-.8" fill="none" stroke="#aaaaaa" stroke-width="0.15"/>
</defs>
<rect width="550" height="305" fill="#fff"/>
<g transform="translate(0,31.82)">
<use href="#nz"/>
<path d="M225.35 -3.9l.03 .3 .03 3.5 .03 4.2 .04-5 .03-2.7 .03 .8 .03 8.1 .03 .2 .03-6.9 .03 .2 .04 1.1 .03 0 .03 2.3 .03-3.3 .03-3.2 .03 4.3 .03 4.5 .04-2.6 .03-3.1 .03 0 .03 3.3 .03 .3 .03-2.7 .04-1.1 .03 1.2 .03 .4 .03 0 .03 1.8 .03 3.1 .03-1.7 .04-2.2 .03-5.3 .03 6.6 .03-7.6 .03 5.7 .03 1.6 .03-6.3 .04 1.2 .03-5.3 .03 6.2 .03 .7 .03 2.4 .03-1.4 .03-.3 .04 2.6 .03-4.4 .03 12.9 .03-8.6 .03-.6 .03-1.3 .03-1 .04 .2 .03 .2 .03 4.5 .03-9.3 .03 6.9 .03-4.5 .03 2.5 .04 .3 .03 1 .03-.5 .03 4 .03-3.2 .03-6.5 .03 3.9 .04 3.2 .03-.4 .03 .2 .03-.8 .03-3.8 .03 .5 .04 4.2 .03 4.2 .03-9.9 .03 1.4 .03 3 .03-1 .03 1.9 .04 .7 .03-11.3 .03 20.9 .03-10.5 .03-1.9 .03-.3 .03 1.3 .04 .7 .03-1.4 .03 3.6 .03 0" fill="none" stroke="#3300FF" stroke-width="0.17"/>
<path d="M234.35 -4.5l.03 6.2 .04-1.5 .03-1.2 .03 .5 .04 1.8 .03 5 .03-4.9 .04 .6 .03-.9 .03-.4 .04 1.4 .03-2.4 .03 2.3 .04 1.9 .03-4.6 .03 1.2 .04-1.3 .03-1.5 .03 6.5 .04-2.4 .03 1.7 .03-3.7 .04 3.9 .03 3.4 .03-10.1 .04 9.6 .03-4.9 .03-2.4 .04-1.3 .03 1.9 .03 2.7 .04-7.2 .03 5.7 .03 1.5 .04-2.9 .03 2.2 .03-2.4 .04 3.2 .03-3.5 .03 5.3 .04-4.6 .03-1.4 .03 1.3 .04 .6 .03-9.8 .03 9.6 .04 2.1 .03-2.1 .03-3.3 .04 4.6 .03 3.1 .03-3.5 .04 2.4 .03-2.5 .03 3.4 .04-7.9 .03 4 .03-3.6 .04 3.4 .03-2 .03 2.7 .04 .5 .03 1.2 .03 1.3 .04-5.8 .03-.4 .03 3.9 .04 2.7 .03-6.3 .03 7.5 .04-3.4 .03-1.1 .03-3.2 .04 1.5 .03 1.7 .03 3.1 .04-3.9 .03-2.9 .03 2.2 .04-3 .03 3.5 .03 .8 .04-1 .03 .4 .03-6.2 .04 5.6 .03 .7 .03-.2 .04-.6 .03-.1 .03-1.5 .04 .1 .03 1.4 .03 11.9 .04-13.3 .03 1.4 .03-3 .04 9.7 .03-8" fill="none" stroke="#00FFFF" stroke-width="0.17"/>
<path d="M246.35 2.4l.03-11.3 .03 8.8 .03 2.1 .04-2.2 .03 5.1 .03-3.5 .03-.4 .03-.6 .03 .8 .03-2.4 .04 5.1 .03-.7 .03-5.3 .03 3.5 .03-.7 .03 .8 .03 0 .04 1.7 .03-3.3 .03 .5 .03 2.3 .03-2.6 .03-2.6 .04 7.7 .03-10.2 .03 8.8 .03-2.5 .03-1.7 .03-1.3 .03 1.6 .04-2.7 .03 6.5 .03-.1 .03-.6 .03-1.8 .03 4.9 .03-3 .04-4.7 .03 2.3 .03 7.2 .03-10.8 .03 0 .03 .2 .03 8.9 .04-2.7 .03-.3 .03-3.3 .03-1 .03 .1 .03 5.2 .03-6.7 .04-2.6 .03 5.1 .03-2.6 .03 2.6 .03 6.9 .03-5 .03-.7 .04-4.1 .03 1 .03 3.7 .03 4.4 .03-3.6 .03-1.4 .03-.1 .04-1 .03-5.4 .03 8.5 .03-12.6 .03 10.6 .03-4.2 .04 3.2 .03-1.5 .03 3.4 .03-4.1 .03 2.4 .03 3.5 .03-1.9 .04 .5 .03-3.8 .03 3 .03-3.6 .03 .3 .03 .3 .03 3 .04-4.3 .03 3.5 .03-.2 .03-3.2" fill="none" stroke="#0066FF" stroke-width="0.17"/>
<path d="M255.55 .6l.03 1.8 .03-4.1 .03 7 .03-1.8 .03-.5 .03-2.9 .03-.4 .03-.7 .03 2.6 .03-.6 .04 2.3 .03-4.3 .03 2.8 .03-4.7 .03-2.5 .03 9.5 .03-3.8 .03 3.1 .03-.2 .03-3.5 .03-.8 .03 2 .03-2.9 .03 1.8 .03 3.4 .03-7.5 .03 3 .03 1.3 .03-4.5 .03 2.4 .04 2.6 .03-6.6 .03 15.1 .03-5.7 .03-3.6 .03 3.8 .03-7.4 .03 4.2 .03-2.7 .03 2.3 .03 1.4 .03-.6 .03-2.8 .03 3 .03 4.3 .03-8.7 .03 4.5 .03 .6 .03-.9 .03 4.9 .03 1.4 .04-3.7 .03-1.4 .03-2.7 .03 .6 .03 2.9 .03 1.9 .03-8.7 .03 3.2 .03 1.2 .03 3.6 .03-2.1 .03-1.6 .03 6.3 .03-4.2 .03 .6 .03-2 .03-1.5 .03 1.3 .03 .3 .03-2.7 .04-2.7 .03 12.1 .03-4.8 .03-1.9 .03-1.5 .03 6.6 .03-4.7 .03-4.3 .03 3.3 .03-.8 .03-1.7" fill="none" stroke="#CC00FF" stroke-width="0.17"/>
<path d="M261.65 -1.9l.03 4.7 .03-2.8 .03-2 .04 4 .03-5.9 .03 5.4 .03-2.5 .03 .7 .03 1.3 .03-3.5 .04 6.3 .03-3.4 .03 6.6 .03-7.9 .03 5.8 .03-6.4 .03 3.3 .04-4 .03 3.4 .03-5.1 .03 4.7 .03 1.3 .03-.4 .04-.4 .03 2.6 .03-4.1 .03 4.9 .03-4.2 .03 1.1 .03 .8 .04 0 .03-1.3 .03 0 .03-1.7 .03-2.9 .03 4.6 .03-2.7 .04-.4 .03 .2 .03 2.6 .03-10.2 .03 17.9 .03-6.8 .03-2.3 .04 2.5 .03-2 .03-3.2 .03 3.7 .03 .6 .03-3.4 .03 3.6 .04 .5 .03 3 .03-6.1 .03-2.7 .03 6.9 .03-1 .03-4.9 .04 6.5 .03-.6 .03-5.2 .03 2.6 .03-1.6 .03 9.8 .03-10.1 .04 3.7 .03-4.7 .03-1.6 .03 5.9 .03-4.2 .03 3.4 .04 2 .03-.1 .03 1.1 .03-2.9 .03 1.8 .03-5.4 .03 5.6 .04-9.6 .03 5 .03 6.2 .03-3.9 .03 .3 .03 .9 .03-1.1 .04-5.6 .03 5.6 .03 6.4 .03-4.5" fill="none" stroke="#FF0099" stroke-width="0.17"/>
<path d="M291.65 -1.9l.03 .5 .03 1.4 .03 .9 .03 .7 .03-7.3 .03 3.5 .03 1.6 .03-2.3 .03 1.6 .03-.1 .04 .9 .03-.9 .03 1 .03 3.8 .03-3.9 .03-1 .03 1.5 .03 .7 .03-1.2 .03 .7 .03 2.8 .03-2.7 .03 1.7 .03 5.2 .03-8.1 .03 .3 .03-1.5 .03 2.9 .03-1.9 .03 .9 .04-1.1 .03 5.9 .03-6.8 .03 6.2 .03 1.3 .03-5 .03 3.7 .03-6.3 .03 9.4 .03-7.1 .03 4.4 .03-5.2 .03-2.7 .03 4.5 .03-3.9 .03 3.5 .03 2.4 .03-2.1 .03 1.3 .03-3.6 .03 .2 .04-8.2 .03 11.6 .03-1.4 .03 2.7 .03-1.3 .03-.2 .03-3.2 .03-.3 .03-1 .03 3.5 .03-.4 .03 .7 .03 7.7 .03-8.9 .03 0 .03 1.5 .03-1.9 .03-2.3 .03 6 .03-5.4 .04 3.8 .03-1.2 .03 .1 .03 .1 .03-4.5 .03 4.2 .03 .3 .03 2.2 .03-7 .03 3 .03 1.1" fill="none" stroke="#00FF66" stroke-width="0.17"/>
<path d="M301.25 .4l.03-2.7 .03 2.2 .02 1.3 .03-1.2 .03-3.2 .03 3.5 .03-2.7 .02 5.2 .03-1.8 .03 .9 .03-4.3 .03 5.5 .02 1.5 .03-5.5 .03-5.2 .03 .8 .03 9.8 .02-1 .03-6.6 .03 1.7 .03 2.8 .03-1.9 .02-2.2 .03 1.4 .03 11.8 .03-10.2 .03-.6 .02-2.4 .03-.3 .03 2.5 .03-.7 .03 2.4 .02 1.3 .03-2.9 .03 4.3 .03 7.6 .03-7.7 .02-5.1 .03 1.1 .03 .7 .03-4.3 .03 3.1 .02 1.8 .03-7.8 .03 7 .03 4.2 .03-2.6 .02-.2 .03-2.2 .03 1 .03-1.6 .03 1.4 .02 1.5 .03-.7 .03-.4 .03 .6 .03 2.7 .02-1.6 .03-3.6 .03 4.4 .03-6.4 .03 2.5 .02 1.4 .03 3.6 .03-3.6 .03 .4 .03-2.2 .02-1.7 .03 .4 .03 .8 .03-.5 .03-2.3 .02 2.8 .03 .2 .03 3" fill="none" stroke="#FF9900" stroke-width="0.17"/>
<path d="M309.85 .4l.03-4.1 .03 4.8 .03 0 .03-1.5 .03-2.5 .03 2.9 .03-2.8 .03 5.6 .04-6.1 .03 4.3 .03-2.5 .03-1 .03 4.4 .03-6.8 .03 4.5 .03 2.9 .03-6.6 .03-.1 .03-1.4 .03 5.6 .03 7.3 .03-8.2 .03 5.7 .03-9.5 .03 4.3 .04 6.6 .03-5.7 .03 2.1 .03 2.4 .03-2.4 .03-.2 .03-2.8 .03 6.1 .03-12.6 .03 1.4 .03 4.2 .03 3.7 .03-2.1 .03-.1 .03 2.3 .03-1.6 .03-4 .04 5.4 .03-4.4 .03 2.9 .03 5.1 .03-4.9 .03-3.1 .03 2.6 .03 1.3 .03-1 .03 2.1 .03-3.2 .03-1.9 .03-.2 .03-2.1 .03 3 .03 7.5 .03-6.8 .04 4.6 .03-2.5 .03 .8 .03-3.1 .03 1.4 .03 1.1 .03-1.4 .03 4.2 .03 1.6 .03-7.2 .03-8.1 .03 11.2 .03-8.7 .03 7.8 .03-3.7 .03 6.2 .03-3.8 .04-2.3 .03 6 .03-3 .03 2.4 .03-1.6 .03-1.7 .03 1.7 .03 3 .03-4.2" fill="none" stroke="#33FF00" stroke-width="0.17"/>
<path d="M319.05 .3l.03-4.7 .03-.3 .03 .8 .03 4.3 .04-7.9 .03 7.5 .03 2.8 .03-3.5 .03-.3 .03-2.7 .03 5.3 .03 .8 .03-3.1 .03-.7 .04-2.8 .03 3.4 .03 2.2 .03-1.3 .03-7.4 .03 12.4 .03-4.9 .03-4.4 .03 3.9 .03 2.8 .04 .9 .03-5.3 .03 4.6 .03-3.2 .03 .4 .03-1.4 .03-.4 .03 0 .03 1.4 .04-1.2 .03 2 .03 4.9 .03-4.8 .03-1.7 .03-3.9 .03-4.2 .03 11.5 .03 .7 .03 0 .04-3.9 .03 6.4 .03-1.5 .03-4.2 .03-.2 .03 4.7 .03-5.5 .03 1.4 .03-1.7 .03-.8 .04 3 .03-.4 .03-1.2 .03 4 .03-4.1 .03 5.3 .03-6.8 .03 1.5 .03 3.1 .04-1.7 .03 1.4 .03-2.4 .03-2.3 .03 3.9 .03-1.4 .03-2.4 .03 3.4 .03-5.6 .03 7.3 .04-1.3 .03-2.7 .03-1.1 .03 6.3 .03-2.7 .03-3.9 .03 2.5 .03 3 .03-3 .03 2.3 .04-4.7 .03 5.4 .03 .6 .03-3 .03 .4" fill="none" stroke="#FF0000" stroke-width="0.17"/>
<path d="M327.65 1.4l.03 1.8 .03 0 .03 2 .04-7.3 .03 2.1 .03 2.2 .03-2.8 .03 1.4 .03-2.6 .03 2.9 .04-2.3 .03 7.4 .03-11.1 .03 3.1 .03 3.6 .03 1.5 .03 2.7 .04-3.1 .03-.9 .03 0 .03-1 .03-1 .03 5 .03 0 .03-7 .04 2.3 .03-3.2 .03 6.4 .03-2.3 .03 6 .03-13.8 .03 11.6 .04-1.9 .03-3.9 .03-1.7 .03 8.2 .03-3 .03 3.5 .03-10.9 .04 1.5 .03 4 .03 2.4 .03-2.6 .03 .2 .03-1.2 .03 6.8 .04-12.7 .03 9.2 .03-1.3 .03-.7 .03-5.8 .03 5.3 .03-4.6 .04-2.6 .03 10.2 .03-9 .03 8.7 .03 .5 .03-13 .03 8 .04-2.9 .03 4.8 .03 1 .03 3.1 .03-8.8 .03 .5 .03 8.1 .03-1.7 .04-.4 .03 1.3 .03-6.2 .03 3.3 .03-2.2 .03 1.2 .03 4.9 .04-2.9 .03 4.5 .03-8.4 .03 1.4 .03 2.6 .03-5.3 .03-5.9 .04 12.2 .03 2.3 .03-5.5 .03-.6" fill="none" stroke="#CCFF00" stroke-width="0.17"/>
</g>
<g transform="translate(0,112.55)">
<use href="#nz"/>
<path d="M225.35 1.6l.03-7.9 .03 5.8 .03 4.2 .03-5.8 .03 5.6 .03 1.2 .03-9.9 .03 3.8 .03-1.2 .03 3.7 .04 .1 .03 1.4 .03 .6 .03-1.4 .03 2.5 .03-7.6 .03 9.2 .03-8 .03 5.3 .03-3.3 .03 2.8 .03-1.2 .03-.9 .03 1.1 .03-1.1 .03 .4 .03 1.6 .03-2.3 .03-.2 .03-2 .04 2.8 .03 2.5 .03-1.4 .03-1.6 .03 .5 .03-2.6 .03-7 .03 7.8 .03-.1 .03-2.5 .03 5.1 .03-1.7 .03-4.7 .03 3.2 .03 5.9 .03-3.7 .03 .1 .03-1.2 .03-3.4 .03 .2 .03 8.1 .04-8.3 .03 5.2 .03-7 .03 3.4 .03 2.2 .03 2 .03-4.4 .03 .7 .03 10.2 .03-11.9 .03 3.9 .03-3.9 .03 5.5 .03-1.8 .03 .1 .03 7.3 .03-11.4 .03 2.4 .03 2.2 .03-5.5 .04 .9 .03 .5 .03 9.6 .03-11.5 .03 4.1 .03-3.1 .03 6.5 .03-2 .03 1.9 .03-.7 .03 .9" fill="none" stroke="#CC00FF" stroke-width="0.17"/>
<path d="M234.05 1.2l.03-1.7 .03 2.8 .04-2.6 .03 1.4 .03-6 .03 10.3 .04-6.3 .03 .2 .03 1.4 .03-.9 .03-5.5 .04 9.5 .03-4.1 .03-1.8 .03 4.9 .04 .6 .03 1.3 .03-9.3 .03 3.5 .04 5.2 .03-2.4 .03-.6 .03-1.8 .03 3.2 .04-4 .03-.1 .03-1.8 .03 2.3 .04-.6 .03 .8 .03-1.9 .03 1.5 .03 2.9 .04 .1 .03 0 .03-1.7 .03 4.9 .04-4.5 .03 1.8 .03-2.1 .03 .3 .03-1.5 .04-1.7 .03 2.9 .03 4.6 .03-6.2 .04 1.4 .03-.3 .03 .8 .03 3.9 .04-.5 .03-4.8 .03-.8 .03 6.4 .03-2.9 .04 3.6 .03-.6 .03-9.7 .03 5.6 .04-4.1 .03 7.7 .03-4.3 .03-5.2 .03 3.2 .04-2.7 .03 3.9 .03 0 .03 0 .04-2.9 .03 3.2 .03 .8 .03 .5 .03-2.2 .04 2.9 .03 3.7 .03-7.4 .03 3.2 .04 .2 .03-1.7 .03 2.1 .03 1.1 .04-4.8 .03-4.2 .03 9 .03-1.9 .03-3.4 .04-.3 .03 1.2 .03 0 .03 3 .04-1.6 .03-2.2 .03 9.1" fill="none" stroke="#00FFFF" stroke-width="0.17"/>
<path d="M251.85 -1.1l.03 1.1 .02-.2 .03 4.8 .02-.1 .03-5.9 .03-1 .02-.1 .03 1.4 .02-.7 .03 5.8 .03-6.1 .02 1 .03 7.1 .03-9.1 .02 .1 .03 4.2 .02 2.1 .03-6.6 .03 3.2 .02 3.4 .03-1.3 .02-4.9 .03 4.3 .03-5.5 .02 6.2 .03-4 .02-4.5 .03 6.1 .03-3 .02 5.1 .03-5.1 .02 2.7 .03 2.4 .03-1.8 .02-2.9 .03 3.5 .03 3.4 .02-1.3 .03-5.8 .02 3.9 .03 4.6 .03-5.9 .02-.4 .03-.4 .02 2.7 .03-1.5 .03-.2 .02 .1 .03-.2 .02 .4 .03 0 .03 3.6 .02-1 .03-5.6 .02 3.3 .03 1.3 .03-3.8 .02-3.9 .03 .1 .03 6.1 .02-.8 .03 3 .02-4.5 .03-.5 .03 4 .02 2.5 .03-1.5 .02-2.8 .03 4.5" fill="none" stroke="#FF0000" stroke-width="0.17"/>
<path d="M255.85 -3.3l.03 2 .03 1.8 .03 4 .03 .2 .03-10.8 .03 7.4 .03 2.1 .03-2 .04-10.8 .03 .9 .03 7 .03 3 .03-3.6 .03-1.4 .03 4.1 .03 .8 .03-1.5 .03-.8 .03 2.6 .03 4.2 .03-10.1 .03 .6 .03 5.8 .03-2.7 .03-1.5 .04-.6 .03 3.7 .03 .3 .03-.5 .03-1.9 .03 7.3 .03-10.6 .03 5.3 .03-.6 .03 1.7 .03 .1 .03-2.4 .03 1.1 .03-.6 .03 1.9 .03-4.5 .03 4.1 .04-2.6 .03 6.9 .03-7.5 .03 .1 .03-.1 .03 6.1 .03-4.4 .03-2 .03-1.5 .03 3.8 .03-1.5 .03 1.1 .03 2.5 .03 1.3 .03-.3 .03-5.6 .03 7.7 .04-4.7 .03 2.6 .03-3.1 .03 .6 .03-3.7 .03 2.2 .03 5.9 .03-9.3 .03 5.2 .03-4.6 .03 6.7 .03 1.9 .03-6.9 .03 2.6 .03-6.8 .03 5.5 .03 8.5 .04-7 .03-5.1 .03 4.4 .03 1.1 .03-1 .03-.7 .03 1.5 .03 1.5 .03 .9" fill="none" stroke="#3300FF" stroke-width="0.17"/>
<path d="M276.85 -1.8l.03-1.8 .03 3.5 .03 2.5 .03-1.2 .03-3.7 .03 2.1 .03 2.1 .03 5.4 .03-8.9 .03-.5 .04 2.6 .03-.2 .03 .4 .03 2.9 .03-3.9 .03 7.7 .03-6.8 .03-.7 .03 .5 .03 2.8 .03 2.5 .03-6.1 .03 8.4 .03-1.9 .03-6.9 .03 4.3 .03-4.1 .03 1.2 .03-.5 .03 1.2 .04 2 .03 .9 .03-5.4 .03 .5 .03 3.2 .03-6.5 .03 3.7 .03 .4 .03-1.2 .03 3.6 .03-.4 .03-.1 .03-.8 .03-3.1 .03 .6 .03 6.7 .03-7.6 .03-4.8 .03 9.5 .03-6 .03 7.2 .04-2 .03-1.6 .03 6.2 .03-5.3 .03-1.6 .03-2 .03 2 .03-.2 .03 6.8 .03-5.4 .03 .5 .03-10.3 .03 6.3 .03 5.3 .03-5.2 .03 6.1 .03-4.4 .03 4.1 .03-6 .03 .4 .04-.4 .03 1.4 .03 2.1 .03 1.7 .03-1.2 .03-1 .03-.9 .03-.1 .03 1.4 .03-1.8 .03 4" fill="none" stroke="#FF0099" stroke-width="0.17"/>
<path d="M291.65 .5l.03-2.2 .03 12.2 .03-9.5 .04 1.8 .03-1.5 .03 .8 .03-3.6 .03-3.1 .03 3.7 .03 1.5 .04 8.9 .03-6.6 .03-3.3 .03 2.7 .03-5.9 .03 2.9 .03 .8 .04 .2 .03-1.5 .03-.4 .03 3.5 .03-2.4 .03 4.8 .04-7.3 .03-.1 .03 1.3 .03 1.8 .03-.8 .03-.7 .03 2.2 .04-6.9 .03 5.7 .03 .1 .03 1.9 .03-3.3 .03 2.1 .03-2.3 .04 .8 .03 4.9 .03-4 .03-1.7 .03-.3 .03 1.5 .03 5.1 .04-1.8 .03-7.4 .03 1.2 .03 .8 .03 9.7 .03-6.8 .03-1 .04 .6 .03-1.6 .03-4.7 .03 5 .03 4.5 .03 6.5 .03-8.6 .04 3.8 .03-4.2 .03-4.3 .03 6.2 .03-4.3 .03 .8 .03 2.6 .04-1 .03 2.6 .03-2.6 .03-1.8 .03 3.5 .03-1.7 .04 .7 .03-3.2 .03-1.2 .03 5.2 .03 1.1 .03-3.8 .03 1.6 .04-1.2 .03-1.8 .03 2.1 .03-1.2 .03 5.4 .03-3 .03 .6 .04-2.1 .03 .4 .03 .8 .03 3.3" fill="none" stroke="#33FF00" stroke-width="0.17"/>
<path d="M300.95 1.1l.03 2.4 .03-.8 .03-3 .03 1.7 .03-3.2 .03 3.6 .03 3.3 .03-5 .03-.5 .03-.3 .03 .7 .03 4.4 .03-5.4 .03 7.8 .03-9 .03 2.4 .03-2.2 .03 6.4 .03-4.3 .03 4.6 .03-6.9 .03 2.4 .03 3.4 .03-8.2 .03 6.7 .03 4.6 .03 3.5 .03-14 .03 4.3 .03 .5 .03-1.6 .03 1.4 .03-3.2 .03 5.7 .03-3.7 .03-1.5 .03 5.3 .03-3.6 .03-3 .03 6.8 .03-6 .03 1.4 .03 .9 .03-.6 .03-.9 .03-.8 .03 .4 .03 5.3 .03-2.4 .03 3.4 .03-5.5 .03 0 .03 2.7 .03-1.2 .03-4.9 .03 1.3 .03 2.8 .03-1.9 .03 6.7 .03-2.7 .03-5.5 .03 5.4 .03 8.9 .03-9.9 .03 .3 .03-1.4 .03 3.3 .03-3.6 .03 3.5 .03-3.9 .03 .5 .03 12.3 .03-5.3 .03-9.3 .03 2.7 .03 2.5 .03-.5 .03-1.7 .03-3.4 .03-.6" fill="none" stroke="#FF9900" stroke-width="0.17"/>
<path d="M309.85 3.8l.03-5.2 .03 2.7 .03-3.5 .03 5.6 .03-7.3 .03 5.4 .03-2 .03 .9 .04 .5 .03 1.4 .03-2 .03 2.6 .03-8.4 .03 1.7 .03-2.4 .03 8.5 .03-1.7 .03 2.6 .03-4.3 .03-1 .03-.1 .03 .9 .03 5.9 .03-4 .03-6.3 .04 6.7 .03-2.5 .03 2.6 .03-3 .03 1.3 .03 .6 .03-1.6 .03 2.9 .03-2.1 .03 .8 .03-1.3 .03 1.7 .03 5.1 .03-4.5 .03 1 .03 .8 .03-4.1 .04 12.6 .03-11.2 .03-.9 .03-.3 .03-.9 .03 2.3 .03 4.6 .03-7.7 .03 2.3 .03 0 .03 .9 .03-.2 .03-2.5 .03 1.7 .03 1.1 .03-3.1 .03 1.1 .04 1.1 .03 .5 .03-2.2 .03 5.5 .03-1.6 .03-4.7 .03 4 .03-.2 .03-4.2 .03-2.3 .03 5.2 .03-1.3 .03 1.1 .03 .8 .03-5.3 .03 2.9 .03 2.3 .04-.3 .03 3.6 .03-1.7 .03 4 .03-8.1 .03-.5 .03 9 .03-7 .03-2.2" fill="none" stroke="#0066FF" stroke-width="0.17"/>
<path d="M322.25 -.5l.03-2.6 .03-.9 .03 5.2 .03-4.5 .03 5.5 .03-2.1 .03-1 .03 3.7 .03-1.3 .03 1.8 .03-5.4 .03 2.2 .03-6.4 .03 7.2 .03-.8 .03-4.8 .03 3.9 .03-.8 .03 5.2 .03-5.1 .03 4.6 .03-3.5 .03 3.7 .03-5.7 .03 1.6 .03 5.5 .03-1.7 .03-3.2 .03 3 .03-2.2 .03 2.3 .03 4.5 .03-6.9 .03-1.7 .03-.7 .03 3.7 .03-2.8 .03 3.4 .03-2.8 .03 4.3 .03-6.8 .04 3.7 .03 2.3 .03-6.7 .03-.8 .03 6.5 .03-2.9 .03-1.3 .03 .9 .03 1.3 .03 2.2 .03-1.7 .03 .6 .03-5.4 .03 7.6 .03-2.7 .03-1.4 .03 3.1 .03-4.2 .03 4.3 .03-9.4 .03 10.8 .03-10.4 .03 4.1 .03-6.4 .03 7.6 .03 3.6 .03-.6 .03 4.6 .03 4.6 .03-12 .03 2.9 .03-1.8 .03-3.2 .03 6.7 .03-4.9 .03 4.7 .03-1.9 .03 .8 .03-2.1 .03 2.9 .03-3.6 .03 3.1" fill="none" stroke="#00FF66" stroke-width="0.17"/>
<path d="M327.65 .7l.03 4.5 .03-4.3 .03 3.6 .04-4.5 .03-2.5 .03 3.2 .03 .3 .03-1.3 .03 .5 .03-6.9 .04 9 .03-3.5 .03 1.8 .03 3.5 .03-4.2 .03-1.5 .03-1.8 .04 11.7 .03-6.3 .03-1.9 .03 6.9 .03-5.6 .03-2.2 .03-3.8 .03 2.8 .04 5.3 .03-4.6 .03-1 .03 7.3 .03-5.9 .03-3.8 .03 3.6 .04 1.1 .03 2.4 .03-.4 .03-7 .03 5.1 .03-4.9 .03 1.9 .04 .6 .03 2 .03-.8 .03 5.1 .03-1.6 .03-2.6 .03-2.9 .04-3.5 .03 7.4 .03-9.3 .03 6.1 .03 3.4 .03-.7 .03 2.6 .04-5.6 .03-2.1 .03 5.3 .03-.7 .03-1.9 .03 0 .03 4.1 .04-3.6 .03 2 .03-4.1 .03 1.4 .03 5.1 .03-3.3 .03-2.3 .03 2 .04 3.4 .03 6.8 .03-7.6 .03-.6 .03 .4 .03 9 .03-11.8 .04 .3 .03 3.1 .03-4.2 .03 1.3 .03 2 .03-2.3 .03 2.5 .04-3.7 .03 6.1 .03-3.2 .03 3.1" fill="none" stroke="#CCFF00" stroke-width="0.17"/>
</g>
<g transform="translate(0,193.25)">
<use href="#nz"/>
<path d="M247.05 0l.03 2.8 .03-1.8 .02 2.9 .03-13.3 .03 8.2 .03 .5 .03-.4 .02 4.3 .03-3.3 .03 1.7 .03-1.8 .03-1.8 .02 3.1 .03 1.2 .03-2.5 .03 .1 .03-.3 .02-.1 .03-2.4 .03 2.4 .03-.4 .03 2.3 .02 .5 .03-2.7 .03 1.3 .03 4.1 .03-7.1 .02 3 .03-1.7 .03 .4 .03 1 .03 2.6 .02-2.4 .03 .8 .03-1.3 .03-1.1 .03 .8 .02 3.2 .03 5.5 .03-9.2 .03 5.4 .03-7.2 .02 2 .03 3.4 .03 1 .03-2.1 .03 0 .02-1.7 .03 8 .03-8.7 .03 4.1 .03-.1 .02-4.6 .03 .8 .03 5.1 .03-2.8 .03 3.2 .02-7.3 .03 3.2 .03-.8 .03-1 .03-2.1 .02 3.5 .03-.9 .03-1.8 .03 2.8 .03-4.2 .02 1.8 .03 1 .03-3.1 .03 3.4 .03-4.7 .02 5.4 .03-1.4 .03 .1" fill="none" stroke="#CC00FF" stroke-width="0.17"/>
<path d="M251.85 2l.03-2.3 .02-1.5 .03 .7 .02-1.8 .03 5.4 .03-1.7 .02-1.3 .03-.7 .02 4.5 .03 .4 .03 .6 .02-2.2 .03-3 .03 2 .02-.7 .03-2.1 .02 6.3 .03-.6 .03 .3 .02-6.6 .03 2.2 .02-2.7 .03 8.8 .03-1.9 .02-1.9 .03-2.3 .02-.1 .03-.9 .03 .2 .02 4.3 .03-.9 .02-.1 .03-5.1 .03 .5 .02 1.1 .03 2 .03-1.3 .02-.3 .03-8.7 .02 5.6 .03 6 .03-.9 .02 10.2 .03-14.1 .02 5.6 .03-3.2 .03 3.9 .02-4.5 .03 .1 .02 1.1 .03 1.6 .03-7.9 .02 4.5 .03 .8 .02 1.2 .03-.7 .03-1.5 .02 1.5 .03-4.3 .03 5.7 .02-4 .03 2.8 .02-2.5 .03 2.5 .03 1.1 .02-.8 .03-.3 .02-.3 .03 3.8" fill="none" stroke="#FF9900" stroke-width="0.17"/>
<path d="M255.85 -3.6l.03 6.7 .03-1.3 .03-.3 .03-3.1 .02 2.1 .03 1.7 .03-3.7 .03 .3 .03 5.9 .03-7.4 .03 .6 .03 2.3 .03-.9 .03-8.7 .02 8.4 .03 2.8 .03-.5 .03 1 .03-6.4 .03-2.1 .03 3.9 .03 1 .03-2.9 .02 6.1 .03-2.1 .03-1.5 .03 1.6 .03-1.6 .03 4.9 .03 2.1 .03-5.7 .03 2 .03-4.8 .02 1.7 .03 5.5 .03-5.2 .03 3.3 .03 5.3 .03-16.8 .03 7.3 .03 3.7 .03-.8 .02-4.9 .03 1.2 .03-4 .03 6.7 .03 3.2 .03-2.6 .03-3.3 .03 1.4 .03 2.8 .03 1.2 .02-3.3 .03-1.7 .03-2.3 .03 8.8 .03-1.7 .03-2.7 .03 .7 .03 1 .03-3.4 .02 4.9 .03 3.5 .03-9.5 .03 4.9 .03 2.9 .03-6.3 .03 .5 .03 4 .03-5.5 .03 3.6 .02-1.6 .03 .5 .03-5.3 .03-.2 .03 5.9" fill="none" stroke="#00FF66" stroke-width="0.17"/>
<path d="M292.35 -.8l.03-4 .02 3 .03 5.9 .02-4.2 .03 3.3 .03-2.2 .02-4 .03 2.2 .02 6 .03-3.7 .03-5.4 .02 3.6 .03 4.4 .03-6.1 .02 1.2 .03 .1 .02-4.9 .03-1 .03 7.5 .02 .4 .03-3.4 .02 5.1 .03-3.3 .03 2.7 .02-.8 .03 2.5 .02-8.1 .03 12.3 .03-.3 .02-8.3 .03 3.8 .02-3 .03 1.3 .03-.2 .02-3.4 .03-2.3 .03 4.2 .02 1.4 .03-2.4 .02 1.4 .03 .8 .03 3.5 .02-3.9 .03 1 .02-1.4 .03 .9 .03-4 .02 2.4 .03 .6 .02-5.4 .03-.4 .03 5.5 .02 .8 .03 1.8 .02-3.6 .03 3.5 .03-4.5 .02-.9 .03 6.9 .03-5.7 .02 .9 .03 8.6 .02-5.3 .03-2.9 .03 1.5 .02 .6 .03-2.3 .02 2.5 .03-4.4" fill="none" stroke="#00FFFF" stroke-width="0.17"/>
<path d="M301.25 -.9l.03 .9 .03 3.4 .02-2.8 .03 5.2 .03-7.8 .03 3.4 .03-2.2 .02-1.3 .03 .7 .03 .8 .03-.3 .03 3.5 .02-8.3 .03 5.3 .03-.1 .03 .3 .03-4 .02 5.9 .03-5.7 .03-2.9 .03 6.8 .03 1.6 .02 3 .03-5.5 .03 1 .03 3 .03-1 .02 3.3 .03-6.8 .03 5.6 .03-3.3 .03-1.6 .02-1.3 .03 2.2 .03 1.2 .03-2.1 .03 2.7 .02 .4 .03 2 .03-4.1 .03 2.3 .03-3.4 .02-1.6 .03 4 .03-2.2 .03 .4 .03 .9 .02-4.1 .03 3.7 .03-2.5 .03 3.3 .03-5.2 .02 4.5 .03 1.3 .03-.9 .03-.8 .03-1.3 .02 3.2 .03-5.8 .03 4 .03-2.2 .03 4.5 .02-3.1 .03 2.1 .03-3.7 .03 4.9 .03-1 .02-1.7 .03 .3 .03 .3 .03-.4 .03-1.9 .02-.7 .03-1.5 .03 3.6" fill="none" stroke="#CCFF00" stroke-width="0.17"/>
<path d="M305.05 .3l.02 .4 .03-4.1 .02 7.6 .03-6.5 .02-1.8 .03 4.5 .02-6.8 .02 8.9 .03-2.5 .02-.7 .03 3.9 .02 2.3 .02-8.5 .03 14.5 .02-12.9 .03 2 .02-.2 .03-3.6 .02 3.3 .02-.4 .03-1.8 .02 1.4 .03 4.3 .02-4.6 .02-8.4 .03 11.9 .02-3.5 .03 3.9 .02 1.8 .03-7.1 .02 2.9 .02-.7 .03 0 .02-1.3 .03-.8 .02 1.4 .03 .6 .02 6.5 .02-3 .03-2.3 .02 .7 .03 2 .02-3.8 .02-.2 .03-3.1 .02 5.1 .03-3 .02 3.8 .03-2 .02 4.5 .02-.1 .03-7.2 .02 8.5 .03-6.1 .02 1.6 .02-.1 .03-.8 .02-1.1 .03-.4 .02 2.4 .03-1.1 .02 1.8" fill="none" stroke="#3300FF" stroke-width="0.17"/>
<path d="M310.15 1.2l.03-3.4 .03 4.3 .03-1.1 .03-4.8 .03 6.9 .02 1.6 .03-.7 .03-5.7 .03 4 .03-1.4 .03-2.1 .03 6.1 .03-11 .03 8.7 .03-6.8 .03 7.8 .02-3.3 .03-1.6 .03-4.8 .03 3 .03 2.5 .03 5.8 .03-5.5 .03 1.3 .03 1 .03-4.6 .03 10.5 .03-13 .02 4.3 .03 1.7 .03-4 .03 .4 .03 3.8 .03-2.6 .03 .6 .03 2.5 .03-2.4 .03 2.5 .03-2.8 .02 2.4 .03-3.2 .03-.6 .03-.7 .03 2 .03 3.8 .03-1.3 .03 2.3 .03-6.8 .03 6.5 .03-6.2 .02 1.1 .03 3.2 .03 2 .03-.3 .03-1.6 .03-.2 .03 3.1 .03-8.3 .03 3.1 .03-.1 .03-3.1 .03 4.2 .02 .9 .03 5.9 .03-4.7 .03-3.2 .03 1.3 .03 5 .03-3.7 .03 2.8 .03-.8 .03-5.1 .03 1.3 .02 1.3 .03-.7 .03-2.7 .03 .8 .03 .4 .03 4" fill="none" stroke="#33FF00" stroke-width="0.17"/>
<path d="M322.25 2.9l.03-.7 .03 1 .03-1.8 .03-1 .03 3.4 .03 1.5 .03-2.9 .03-4.7 .03 2.4 .03-2 .03 5.4 .03-1.5 .03-1.4 .03-.9 .03-.5 .03-3.9 .03 1.7 .03 1.6 .03 11.1 .03-8.5 .03-.4 .03 2.3 .03-3.4 .03 1.6 .03-.6 .03-.9 .03 2.4 .03-3 .03 2.5 .03-1.4 .03-.8 .03-5.1 .03 9.1 .03-11.7 .03 8.1 .03 2.6 .03-.1 .03-.3 .03-4.2 .03 .6 .03 0 .04-.5 .03 5 .03 1.8 .03-5.9 .03 2 .03 4.4 .03-8.1 .03-2.1 .03-2.4 .03 8.4 .03-6.3 .03 1.2 .03 7.1 .03-3.8 .03 1.2 .03 2.8 .03-5.5 .03 1.5 .03 5.1 .03 7.1 .03-8.5 .03-.9 .03 1.1 .03-1.7 .03-4.3 .03 2.5 .03 3 .03 1.7 .03-2.2 .03 .2 .03-.3 .03-4 .03 6.1 .03-4.2 .03-2.5 .03 2 .03 0 .03 3.2 .03-1 .03-5.9 .03 4 .03-.6" fill="none" stroke="#0066FF" stroke-width="0.17"/>
<path d="M327.95 .7l.03-10.1 .03 6.8 .03 3 .04-.9 .03-.4 .03-3.1 .03 3.7 .03 0 .03-3 .03 2.5 .04 3 .03 .9 .03-4.9 .03 1 .03 .4 .03 1.1 .03 1.4 .04-1.3 .03 1.6 .03 0 .03-1.3 .03-2.3 .03 3.1 .03-3.2 .03-3.3 .04 4.3 .03 1.9 .03-2.9 .03-.1 .03-3.6 .03 5.2 .03-2.3 .04-.7 .03-6.2 .03 13.6 .03-5.5 .03 1.5 .03 .8 .03 5 .04-4.1 .03-1.1 .03-2.7 .03 4 .03-3.4 .03 4.4 .03-3.1 .04-1.3 .03 5.2 .03-2.6 .03-1.8 .03-9.2 .03 9.4 .03 3.2 .04-3.2 .03-2.1 .03-1.8 .03 1.9 .03 .1 .03 1.3 .03-2.3 .04 1.9 .03 1.9 .03-3 .03 3.9 .03 2.9 .03-3.1 .03 .2 .03-2.6 .04 3.4 .03 4 .03-3.1 .03-2.2 .03 1.6 .03-.2 .03-4.5 .04 5.6 .03-6.1 .03-1.2 .03 1.8 .03 2 .03 1.2 .03-6.6 .04 6.5 .03-2.4 .03 .1 .03 2.5" fill="none" stroke="#FF0000" stroke-width="0.17"/>
<path d="M334.95 3.8l.02-4.7 .03-8.5 .02 8.9 .03 .1 .02 3.6 .03-6.5 .02 2 .02 2 .03-7.2 .02 5.9 .03 4.7 .02-5 .02 1.3 .03-4.2 .02 5 .03-2.5 .02 2.8 .03-1.7 .02 2 .02-.8 .03 2.3 .02-2.5 .03-1.4 .02-.5 .02 .8 .03-2 .02 4.6 .03-1.3 .02 .8 .03 2.2 .02-2.3 .02 3.4 .03-4.1 .02-2.2 .03 .5 .02 5.1 .03-8.4 .02 2.2 .02 4.1 .03 1.5 .02-4.3 .03 .3 .02 1.6 .02-.2 .03-1.2 .02-1 .03-2.7 .02 6.3 .03-.9 .02-2.1 .02 .9 .03 7.4 .02-8.3 .03-3.5 .02-1.7 .02 1.9 .03 3.2 .02-3.1 .03 7.3 .02 3.6 .03-5.4 .02 4.8" fill="none" stroke="#FF0099" stroke-width="0.17"/>
</g>
<g transform="translate(0,273.82)">
<use href="#nz"/>
<path d="M228.55 -1l.03 .8 .03-1.4 .03-1.2 .04-.8 .03 3.2 .03 2.3 .03 1.2 .03-5.2 .03 1.3 .03-4.3 .04 3.9 .03 8.6 .03-8.9 .03 2.5 .03-2.6 .03 4.2 .03-2.7 .04 .7 .03 1 .03 1.9 .03-4.4 .03 6.5 .03-.3 .04-2 .03-2.1 .03-1 .03 1 .03-1.7 .03 .1 .03 .3 .04 .6 .03-1.4 .03-2.8 .03 3 .03 .2 .03 .4 .03-1.9 .04 4.4 .03-.4 .03-2.4 .03 3.7 .03-4.9 .03 2.8 .03 .7 .04 .5 .03 2.4 .03-2.5 .03 2.5 .03-1.1 .03-.2 .03-3.2 .04 1.3 .03-2 .03 4 .03-2.5 .03 1.7 .03-2.9 .03 3.1 .04-3.7 .03 2.7 .03-3.4 .03-2.1 .03-1.2 .03 4.9 .03 .1 .04-1.4 .03 2.5 .03 1.2 .03-1.2 .03-.1 .03 0 .04-5 .03-2.1 .03 4.9 .03 8.9 .03-8.8 .03 1.3 .03 3 .04-4.4 .03 2.1 .03 1.6 .03-.6 .03-4.6 .03 4.7 .03-2 .04 1.1 .03 1.1 .03-1.1 .03-3.6" fill="none" stroke="#FF9900" stroke-width="0.17"/>
<path d="M244.45 7.7l.03-10 .03 5.7 .03-.7 .04-4.5 .03 5.2 .03-7.6 .03 .6 .03 9.1 .03-4.8 .03-2.8 .04 .7 .03-.5 .03 5.9 .03-12.5 .03 10.1 .03-.3 .03-.1 .04-3.4 .03 3.7 .03-.8 .03 2.9 .03 .2 .03-5.8 .04 5 .03 4.1 .03-8.8 .03 2.4 .03-.7 .03-1.7 .03 1 .04-1.9 .03 1.1 .03 3.5 .03-1.2 .03-.1 .03 1.7 .03-2.5 .04 2.3 .03-2.5 .03 .4 .03 2 .03-6.1 .03-4.7 .03 4.3 .04 .7 .03-5.4 .03 8.1 .03-4.4 .03 5.8 .03 .3 .03-.8 .04 4.3 .03-3.8 .03-5.4 .03 9.7 .03-.3 .03-4.5 .03-3.6 .04 4.5 .03-3.5 .03 4 .03-.9 .03-.8 .03 5.6 .03-2 .04-1.3 .03-1.6 .03-1.4 .03 2.1 .03-2.8 .03 4.5 .04-4.2 .03-.8 .03 2.1 .03 5.6 .03-7.8 .03-1.3 .03 1.6 .04 5.2 .03-4.1 .03-2 .03 4.9 .03 3 .03-5.4 .03-3 .04 4.1 .03-.5 .03 2.3 .03 1.4" fill="none" stroke="#0066FF" stroke-width="0.17"/>
<path d="M248.95 -.4l.02-8.5 .03 11.5 .02-3.2 .03 2 .02 1.1 .02-3.6 .03 .3 .02 2.8 .02-3.3 .03 5.5 .02-3.5 .03-.5 .02 5.4 .02-9.9 .03 5.8 .02 0 .02-3.3 .03-.1 .02 1.5 .03-.2 .02 2.2 .02 2.9 .03-.2 .02-3.4 .03-4 .02 6.3 .02-5.2 .03 5.1 .02-2.8 .02-3.6 .03 4.7 .02 4.8 .03-9.9 .02 6.6 .02-12.3 .03 5.9 .02-.9 .02 4.3 .03-4.1 .02 5.3 .03-4 .02 3.9 .02-2.3 .03-.9 .02 3.6 .03 2.4 .02-4.6 .02 .5 .03 .2 .02-4.3 .02 6.4 .03 3.1 .02-1.1 .03-2.3 .02 7.8 .02-8.8 .03-.3 .02 4 .02-5.4 .03 3.5 .02 2.8 .03-6.6 .02 3.7" fill="none" stroke="#FF0000" stroke-width="0.17"/>
<path d="M255.55 3l.03-3.9 .03 6.3 .03-5.7 .03-.6 .03-1.5 .03 5.4 .03-1 .03 .1 .03-4.9 .03 4 .04-.8 .03 .6 .03 1.1 .03-4.7 .03 3.3 .03 .8 .03-7.4 .03 7.3 .03-1.4 .03 4.5 .03-2.3 .03-5.1 .03 .8 .03 2.5 .03 5.4 .03-5.8 .03 0 .03-.4 .03 .9 .03 1 .04-3.8 .03 4.2 .03-2 .03 11.6 .03-11.6 .03 .5 .03 .6 .03-4.1 .03 3.7 .03-3.1 .03 .9 .03 .2 .03 3 .03-3.2 .03-1.6 .03 1.5 .03-7.7 .03 11.4 .03 1.9 .03-4.8 .03-1 .04 2.6 .03-1.5 .03 2.7 .03-1 .03-1.5 .03 .8 .03-8.5 .03 6.6 .03 2.8 .03 1.8 .03-6 .03 7.6 .03 0 .03-4.8 .03 3.9 .03-3.1 .03-4.2 .03 1.3 .03 3.4 .03-1.8 .04-.1 .03-2.8 .03 5.3 .03 3.4 .03-5.6 .03 .2 .03 6.9 .03-.1 .03-3.2 .03 1.2 .03-2.2" fill="none" stroke="#CC00FF" stroke-width="0.17"/>
<path d="M262.95 2.4l.03-1.9 .03 2.5 .03-2.9 .04 2.3 .03-5.1 .03 5.3 .03-3.8 .03 2.2 .03 2.9 .03-1.1 .04-7.6 .03 11.3 .03-6.7 .03 4.1 .03-1.9 .03 3.9 .03-7.4 .04 .3 .03 1.5 .03-2.7 .03-.9 .03 6.7 .03-6.5 .03 4.5 .03-.1 .04-1.7 .03-.4 .03 2.7 .03 .7 .03-1.6 .03 .6 .03-1.8 .04 2.2 .03-3.8 .03-3 .03 6.6 .03 1.7 .03-1.1 .03-.6 .04-4.8 .03 0 .03 .5 .03 4.2 .03 .4 .03 1.1 .03-2 .04-1.7 .03 2.3 .03 .8 .03-4.6 .03-2.3 .03 4.9 .03-.1 .04-3.1 .03 2.4 .03 2.5 .03-.4 .03-4.3 .03 .2 .03 3.2 .04-.7 .03 .7 .03-2.1 .03-1.8 .03 2.3 .03 7.1 .03-7.9 .03-3.3 .04 6.1 .03 2.1 .03 .5 .03-8.2 .03 5 .03-3.1 .03-1.3 .04 6.5 .03-2.1 .03 1.9 .03 .1 .03-6 .03 6 .03-2.6 .04-3.7 .03 2.4 .03 3.9 .03-4.6" fill="none" stroke="#33FF00" stroke-width="0.17"/>
<path d="M270.85 .9l.03-.8 .03 5.2 .03-7 .03 1.2 .03-2.4 .03 8.7 .03-5.8 .03-3 .03 3.5 .03 .2 .04 3.4 .03-7.7 .03 1 .03 5.7 .03-5.7 .03-5.5 .03 5.8 .03 2.5 .03-.3 .03 5.2 .03-4 .03 .1 .03 2.7 .03-5.7 .03 2.8 .03-4.7 .03 5.4 .03 2.9 .03-4.5 .03 1 .04-2.6 .03 1.9 .03-3.9 .03 7.2 .03-8.4 .03 3.8 .03-1.7 .03 6.5 .03-5.7 .03 1.7 .03-3 .03 5 .03-1.9 .03 4.5 .03-6.1 .03-.9 .03 .3 .03 2.6 .03-2.5 .03 1.3 .03 3.4 .04-2.7 .03 .4 .03-2 .03 0 .03 0 .03-1.5 .03 7.6 .03-8.6 .03-5.2 .03 5.1 .03-1.5 .03 2.7 .03 3.6 .03-.2 .03-1.9 .03-1.6 .03 4.6 .03-.1 .03-.4 .03-4.4 .04 4.1 .03 .7 .03-1.4 .03 1.8 .03 .5 .03-3.8 .03-2.2 .03 5.8 .03-2.2 .03-1.4 .03 10.8" fill="none" stroke="#00FFFF" stroke-width="0.17"/>
<path d="M301.25 4l.03-4.6 .03 2.3 .02-2.4 .03 1.9 .03-4.9 .03 4.2 .03-2.4 .02 4.1 .03-3.5 .03 .9 .03-.6 .03 1.8 .02-2.4 .03 .7 .03 1.3 .03-2.5 .03 3.8 .02-5.8 .03 8.4 .03-4.5 .03-1.7 .03 2.6 .02-2.1 .03 2.6 .03-3.1 .03-.3 .03 5.8 .02 .9 .03-4.4 .03 3.2 .03-3.6 .03-.9 .02 5.4 .03-4.5 .03 1.4 .03-3.3 .03 4.8 .02-3.2 .03 1.3 .03 4.4 .03-2.7 .03-4.9 .02 2.1 .03-2 .03 1.2 .03 2 .03 2.8 .02-6.2 .03 5.4 .03 2.1 .03-5.1 .03-1.9 .02 2.4 .03 2.4 .03 2.7 .03-6.2 .03-2 .02 6.8 .03-4.5 .03 4.2 .03-1.1 .03-3.5 .02 .6 .03 5.2 .03 .6 .03-5.4 .03 .1 .02 1 .03-.8 .03-2.8 .03 3.9 .03-4.6 .02 1.9 .03 .1 .03 9.9" fill="none" stroke="#FF0099" stroke-width="0.17"/>
<path d="M304.35 8.7l.03-6.9 .03 1 .03-5.2 .04 .8 .03 4.6 .03-3 .03 1.1 .03 2.1 .03-5.2 .03 2.2 .04-4.1 .03 3.5 .03 1.1 .03 .7 .03 1.8 .03 1.7 .03-2.9 .04-2.1 .03-1.2 .03 .2 .03 3.6 .03-3.2 .03-.7 .04-8 .03 7.7 .03 4.8 .03-1.1 .03 .3 .03-4.9 .03 4.5 .04-5.2 .03 6.2 .03-3.3 .03-1.3 .03 1.4 .03-3.1 .03 3.5 .04-1.5 .03-.3 .03-7.1 .03 11 .03 1.7 .03-4.4 .03 1.5 .04 .1 .03-1.4 .03 .3 .03 5.2 .03-6.1 .03 0 .03 .1 .04 5.9 .03-5.6 .03 4.7 .03-6.6 .03 5.3 .03-1 .03-5.6 .04 1.2 .03 1.5 .03 .2 .03 2.3 .03-4.5 .03 3.9 .03 0 .04-3.3 .03 3.9 .03-2.1 .03-1.3 .03 5.7 .03-8 .04 1.8 .03 2.2 .03-5.2 .03 6.3 .03 4.9 .03-6.5 .03-.6 .04-3.8 .03 4.6 .03 .5 .03-1.2 .03 1.6 .03 2.7 .03-5.1 .04 .6 .03-.8 .03 1.3 .03-1" fill="none" stroke="#00FF66" stroke-width="0.17"/>
<path d="M323.45 1l.03-.4 .03-4.8 .03 4.4 .03 .3 .03 7.9 .03-3.5 .03-2 .03-8.2 .03 6.8 .03-4 .04-1.2 .03 6.2 .03-1.8 .03 .1 .03-1.5 .03-.7 .03 .9 .03-3.2 .03 3.5 .03-3.2 .03 .4 .03 8.3 .03-7.6 .03 9.8 .03-8.7 .03 .9 .03-1.2 .03 0 .03 2.6 .03-.4 .04-2.5 .03 .3 .03-.6 .03 1 .03-1.9 .03 6.2 .03-3.9 .03-.4 .03 3.7 .03-2.8 .03 3.2 .03 4.3 .03-2.2 .03-7.2 .03-.2 .03 .5 .03 3.1 .03-2.6 .03 6.4 .03-2.8 .03-3.8 .04 .6 .03 3.7 .03-3.9 .03-6.2 .03 8 .03-6.2 .03 6.1 .03-1.3 .03 2.9 .03-3.3 .03-1.4 .03 5.7 .03 .7 .03-5.8 .03-2.1 .03 4.2 .03 2 .03-2 .03-.3 .03 1.6 .04-4.6 .03 3.9 .03 1 .03 1.1 .03-.7 .03-6.5 .03 2.1 .03-.5 .03 3.3 .03-3.9 .03 2.5" fill="none" stroke="#3300FF" stroke-width="0.17"/>
<path d="M331.15 -1.8l.03-.5 .03 2.3 .03-2.3 .04-.4 .03 1.9 .03 5.5 .03-6.6 .03 4.2 .03 1.3 .03-1.4 .04-3.6 .03 .8 .03 .5 .03-.1 .03-2.2 .03-3.6 .03 4.3 .04 2.9 .03-1 .03-2 .03 3.9 .03-1.1 .03-1.1 .03-4.5 .03 3.5 .04 4.8 .03-1.3 .03-5.4 .03 7 .03 1 .03-1.2 .03-4 .04-.7 .03 4.4 .03-2.4 .03-1.8 .03-.1 .03 2.8 .03-3.5 .04 1.5 .03-3.6 .03 3.9 .03-1.4 .03-2.3 .03 3.1 .03 .5 .04 .9 .03-2.3 .03 6.1 .03-2.3 .03-2.9 .03-1.3 .03-7.8 .04 6 .03 2.3 .03 2.9 .03 2.7 .03-7.4 .03 9.6 .03-11.2 .04 7 .03-4.6 .03 .3 .03-.7 .03 1.6 .03 1.3 .03-.4 .03 4.7 .04-1.5 .03-.9 .03-3 .03-.7 .03 5.3 .03-6.4 .03 1.4 .04 1.8 .03-.2 .03-8.5 .03 6.8 .03 .9 .03 2 .03-2.1 .04-3.8 .03 7.4 .03-1.7 .03-3" fill="none" stroke="#CCFF00" stroke-width="0.17"/>
</g>
<g filter="url(#bl)">
<line x1="225.05" y1="18.75" x2="225.05" y2="46.3" stroke="#000" stroke-width="0.95" stroke-dasharray="1.25 1.17"/>
<line x1="338.45" y1="18.75" x2="338.45" y2="46.3" stroke="#000" stroke-width="0.95" stroke-dasharray="1.25 1.17"/>
<rect x="16.4" y="18.75" width="530.1" height="27.55" fill="none" stroke="#2a2a2a" stroke-width="0.9"/>
<path d="M35.7 46.3v3.4M111.28 46.3v3.4M186.85 46.3v3.4M262.43 46.3v3.4M338 46.3v3.4M413.58 46.3v3.4M489.16 46.3v3.4M16.4 20.22h-3.4M16.4 26.65h-3.4M16.4 33.08h-3.4M16.4 39.51h-3.4M16.4 45.94h-3.4" stroke="#2a2a2a" stroke-width="0.8" fill="none"/>
<line x1="225.05" y1="99.75" x2="225.05" y2="126.75" stroke="#000" stroke-width="0.95" stroke-dasharray="1.25 1.17"/>
<line x1="338.45" y1="99.75" x2="338.45" y2="126.75" stroke="#000" stroke-width="0.95" stroke-dasharray="1.25 1.17"/>
<rect x="16.4" y="99.75" width="530.1" height="27" fill="none" stroke="#2a2a2a" stroke-width="0.9"/>
<path d="M35.7 126.75v3.4M111.28 126.75v3.4M186.85 126.75v3.4M262.43 126.75v3.4M338 126.75v3.4M413.58 126.75v3.4M489.16 126.75v3.4M16.4 100.44h-3.4M16.4 106.87h-3.4M16.4 113.3h-3.4M16.4 119.73h-3.4M16.4 126.16h-3.4" stroke="#2a2a2a" stroke-width="0.8" fill="none"/>
<line x1="225.05" y1="180.3" x2="225.05" y2="207.6" stroke="#000" stroke-width="0.95" stroke-dasharray="1.25 1.17"/>
<line x1="338.45" y1="180.3" x2="338.45" y2="207.6" stroke="#000" stroke-width="0.95" stroke-dasharray="1.25 1.17"/>
<rect x="16.4" y="180.3" width="530.1" height="27.3" fill="none" stroke="#2a2a2a" stroke-width="0.9"/>
<path d="M35.7 207.6v3.4M111.28 207.6v3.4M186.85 207.6v3.4M262.43 207.6v3.4M338 207.6v3.4M413.58 207.6v3.4M489.16 207.6v3.4M16.4 181.14h-3.4M16.4 187.57h-3.4M16.4 194h-3.4M16.4 200.43h-3.4M16.4 206.86h-3.4" stroke="#2a2a2a" stroke-width="0.8" fill="none"/>
<line x1="225.05" y1="260.75" x2="225.05" y2="288.3" stroke="#000" stroke-width="0.95" stroke-dasharray="1.25 1.17"/>
<line x1="338.45" y1="260.75" x2="338.45" y2="288.3" stroke="#000" stroke-width="0.95" stroke-dasharray="1.25 1.17"/>
<rect x="16.4" y="260.75" width="530.1" height="27.55" fill="none" stroke="#2a2a2a" stroke-width="0.9"/>
<path d="M35.7 288.3v3.4M111.28 288.3v3.4M186.85 288.3v3.4M262.43 288.3v3.4M338 288.3v3.4M413.58 288.3v3.4M489.16 288.3v3.4M16.4 261.39h-3.4M16.4 267.82h-3.4M16.4 274.25h-3.4M16.4 280.68h-3.4M16.4 287.11h-3.4" stroke="#2a2a2a" stroke-width="0.8" fill="none"/>
<text class="a" transform="translate(35.7,57.3) scale(1,1.12)" text-anchor="middle">0</text>
<text class="a" transform="translate(111.28,57.3) scale(1,1.12)" text-anchor="middle">2000</text>
<text class="a" transform="translate(186.85,57.3) scale(1,1.12)" text-anchor="middle">4000</text>
<text class="a" transform="translate(262.43,57.3) scale(1,1.12)" text-anchor="middle">6000</text>
<text class="a" transform="translate(338,57.3) scale(1,1.12)" text-anchor="middle">8000</text>
<text class="a" transform="translate(413.58,57.3) scale(1,1.12)" text-anchor="middle">10000</text>
<text class="a" transform="translate(489.16,57.3) scale(1,1.12)" text-anchor="middle">12000</text>
<text class="a" transform="translate(35.7,138) scale(1,1.12)" text-anchor="middle">0</text>
<text class="a" transform="translate(111.28,138) scale(1,1.12)" text-anchor="middle">2000</text>
<text class="a" transform="translate(186.85,138) scale(1,1.12)" text-anchor="middle">4000</text>
<text class="a" transform="translate(262.43,138) scale(1,1.12)" text-anchor="middle">6000</text>
<text class="a" transform="translate(338,138) scale(1,1.12)" text-anchor="middle">8000</text>
<text class="a" transform="translate(413.58,138) scale(1,1.12)" text-anchor="middle">10000</text>
<text class="a" transform="translate(489.16,138) scale(1,1.12)" text-anchor="middle">12000</text>
<text class="a" transform="translate(35.7,218.45) scale(1,1.12)" text-anchor="middle">0</text>
<text class="a" transform="translate(111.28,218.45) scale(1,1.12)" text-anchor="middle">2000</text>
<text class="a" transform="translate(186.85,218.45) scale(1,1.12)" text-anchor="middle">4000</text>
<text class="a" transform="translate(262.43,218.45) scale(1,1.12)" text-anchor="middle">6000</text>
<text class="a" transform="translate(338,218.45) scale(1,1.12)" text-anchor="middle">8000</text>
<text class="a" transform="translate(413.58,218.45) scale(1,1.12)" text-anchor="middle">10000</text>
<text class="a" transform="translate(489.16,218.45) scale(1,1.12)" text-anchor="middle">12000</text>
<text class="a" transform="translate(35.7,299.4) scale(1,1.12)" text-anchor="middle">0</text>
<text class="a" transform="translate(111.28,299.4) scale(1,1.12)" text-anchor="middle">2000</text>
<text class="a" transform="translate(186.85,299.4) scale(1,1.12)" text-anchor="middle">4000</text>
<text class="a" transform="translate(262.43,299.4) scale(1,1.12)" text-anchor="middle">6000</text>
<text class="a" transform="translate(338,299.4) scale(1,1.12)" text-anchor="middle">8000</text>
<text class="a" transform="translate(413.58,299.4) scale(1,1.12)" text-anchor="middle">10000</text>
<text class="a" transform="translate(489.16,299.4) scale(1,1.12)" text-anchor="middle">12000</text>
</g>
<text class="a y" transform="translate(9.75,20.22) rotate(-90) scale(1.2,1)" text-anchor="middle">4</text>
<text class="a y" transform="translate(9.75,33.08) rotate(-90) scale(1.2,1)" text-anchor="middle">0</text>
<text class="a y" transform="translate(9.75,45.94) rotate(-90) scale(1.2,1)" text-anchor="middle">-4</text>
<text class="t" transform="translate(281.4,10.05) scale(1,1.1)" text-anchor="middle">MASS Algorithm</text>
<text class="a y" transform="translate(9.75,100.44) rotate(-90) scale(1.2,1)" text-anchor="middle">4</text>
<text class="a y" transform="translate(9.75,113.3) rotate(-90) scale(1.2,1)" text-anchor="middle">0</text>
<text class="a y" transform="translate(9.75,126.16) rotate(-90) scale(1.2,1)" text-anchor="middle">-4</text>
<text class="t" transform="translate(281.4,90.8) scale(1,1.1)" text-anchor="middle">DTW with fixed window size</text>
<text class="a y" transform="translate(9.75,181.14) rotate(-90) scale(1.2,1)" text-anchor="middle">4</text>
<text class="a y" transform="translate(9.75,194) rotate(-90) scale(1.2,1)" text-anchor="middle">0</text>
<text class="a y" transform="translate(9.75,206.86) rotate(-90) scale(1.2,1)" text-anchor="middle">-4</text>
<text class="t" transform="translate(281.4,171.3) scale(1,1.1)" text-anchor="middle">DTW-based Sequence Search</text>
<text class="a y" transform="translate(9.75,261.39) rotate(-90) scale(1.2,1)" text-anchor="middle">4</text>
<text class="a y" transform="translate(9.75,274.25) rotate(-90) scale(1.2,1)" text-anchor="middle">0</text>
<text class="a y" transform="translate(9.75,287.11) rotate(-90) scale(1.2,1)" text-anchor="middle">-4</text>
<text class="t" transform="translate(281.4,252) scale(1,1.1)" text-anchor="middle">kernel-based DTW approximation</text>
</svg></body></html>
